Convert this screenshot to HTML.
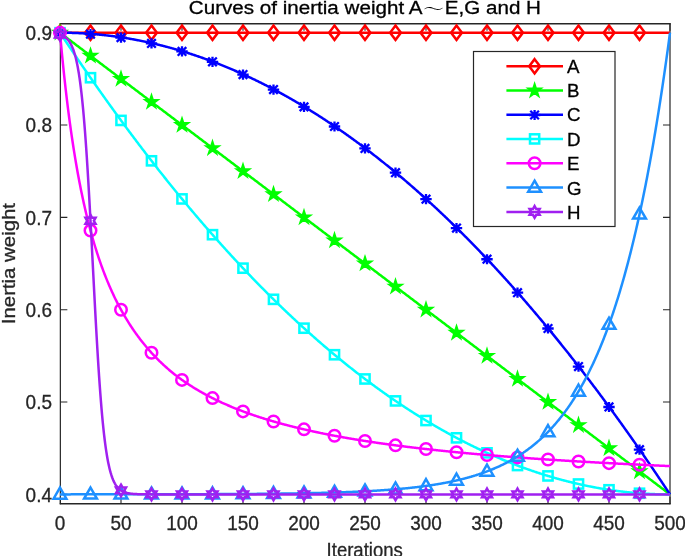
<!DOCTYPE html>
<html><head><meta charset="utf-8"><title>Curves of inertia weight</title>
<style>html,body{margin:0;padding:0;background:#fff}svg{display:block}</style></head>
<body>
<svg width="685" height="556" viewBox="0 0 685 556" font-family="'Liberation Sans', 'Noto Sans CJK SC', sans-serif">
<rect width="685" height="556" fill="#fff"/>
<g stroke="#262626" fill="none">
<path d="M60.35 23.1V504.35M670 23.1V504.35" stroke-width="1.2"/>
<path d="M59.75 23.75H670.6M59.75 503.7H670.6" stroke-width="1.35"/>
<path d="M60.35 503.7v-7M60.35 23.75v7M121 503.7v-7M121 23.75v7M182 503.7v-7M182 23.75v7M243 503.7v-7M243 23.75v7M304 503.7v-7M304 23.75v7M365 503.7v-7M365 23.75v7M426 503.7v-7M426 23.75v7M487 503.7v-7M487 23.75v7M548 503.7v-7M548 23.75v7M609 503.7v-7M609 23.75v7M670 503.7v-7M670 23.75v7M60.35 494.4h7M670 494.4h-7M60.35 402.06h7M670 402.06h-7M60.35 309.72h7M670 309.72h-7M60.35 217.38h7M670 217.38h-7M60.35 125.04h7M670 125.04h-7M60.35 32.7h7M670 32.7h-7" stroke-width="1.1"/>
</g>
<g font-size="20" fill="#262626" stroke="#262626" stroke-width="0.3">
<g text-anchor="middle">
<text transform="translate(60 530.2) scale(0.95 1)">0</text>
<text transform="translate(121 530.2) scale(0.95 1)">50</text>
<text transform="translate(182 530.2) scale(0.95 1)">100</text>
<text transform="translate(243 530.2) scale(0.95 1)">150</text>
<text transform="translate(304 530.2) scale(0.95 1)">200</text>
<text transform="translate(365 530.2) scale(0.95 1)">250</text>
<text transform="translate(426 530.2) scale(0.95 1)">300</text>
<text transform="translate(487 530.2) scale(0.95 1)">350</text>
<text transform="translate(548 530.2) scale(0.95 1)">400</text>
<text transform="translate(609 530.2) scale(0.95 1)">450</text>
<text transform="translate(670 530.2) scale(0.95 1)">500</text>
</g><g text-anchor="end">
<text transform="translate(52 501.7) scale(0.95 1)">0.4</text>
<text transform="translate(52 409.36) scale(0.95 1)">0.5</text>
<text transform="translate(52 317.02) scale(0.95 1)">0.6</text>
<text transform="translate(52 224.68) scale(0.95 1)">0.7</text>
<text transform="translate(52 132.34) scale(0.95 1)">0.8</text>
<text transform="translate(52 40) scale(0.95 1)">0.9</text>
</g></g>
<text transform="translate(364.7 556.6) scale(0.918 1)" font-size="20.2" text-anchor="middle" fill="#262626" stroke="#262626" stroke-width="0.3">Iterations</text>
<text transform="translate(14.9 263.6) rotate(-90) scale(1.165 1)" font-size="17.5" text-anchor="middle" fill="#262626" stroke="#262626" stroke-width="0.3">Inertia weight</text>
<text transform="translate(364.9 14.3) scale(1.0966 1)" font-size="18.8" text-anchor="middle" fill="#000" stroke="#000" stroke-width="0.3">Curves of inertia weight A<tspan font-family="Noto Serif CJK SC, Noto Sans CJK SC, serif" font-weight="400" stroke="none" dx="0.7" dy="1.2">～</tspan><tspan dx="0.9" dy="-1.2">E,G and H</tspan></text>
<g fill="none">
<path d="M60 32.7L60.61 32.7L61.22 32.7L61.83 32.7L62.44 32.7L63.05 32.7L63.66 32.7L64.27 32.7L64.88 32.7L65.49 32.7L66.1 32.7L66.71 32.7L67.32 32.7L67.93 32.7L68.54 32.7L69.15 32.7L69.76 32.7L70.37 32.7L70.98 32.7L71.59 32.7L72.2 32.7L72.81 32.7L73.42 32.7L74.03 32.7L74.64 32.7L75.25 32.7L75.86 32.7L76.47 32.7L77.08 32.7L77.69 32.7L78.3 32.7L78.91 32.7L79.52 32.7L80.13 32.7L80.74 32.7L81.35 32.7L81.96 32.7L82.57 32.7L83.18 32.7L83.79 32.7L84.4 32.7L85.01 32.7L85.62 32.7L86.23 32.7L86.84 32.7L87.45 32.7L88.06 32.7L88.67 32.7L89.28 32.7L89.89 32.7L90.5 32.7L91.11 32.7L91.72 32.7L92.33 32.7L92.94 32.7L93.55 32.7L94.16 32.7L94.77 32.7L95.38 32.7L95.99 32.7L96.6 32.7L97.21 32.7L97.82 32.7L98.43 32.7L99.04 32.7L99.65 32.7L100.26 32.7L100.87 32.7L101.48 32.7L102.09 32.7L102.7 32.7L103.31 32.7L103.92 32.7L104.53 32.7L105.14 32.7L105.75 32.7L106.36 32.7L106.97 32.7L107.58 32.7L108.19 32.7L108.8 32.7L109.41 32.7L110.02 32.7L110.63 32.7L111.24 32.7L111.85 32.7L112.46 32.7L113.07 32.7L113.68 32.7L114.29 32.7L114.9 32.7L115.51 32.7L116.12 32.7L116.73 32.7L117.34 32.7L117.95 32.7L118.56 32.7L119.17 32.7L119.78 32.7L120.39 32.7L121 32.7L121.61 32.7L122.22 32.7L122.83 32.7L123.44 32.7L124.05 32.7L124.66 32.7L125.27 32.7L125.88 32.7L126.49 32.7L127.1 32.7L127.71 32.7L128.32 32.7L128.93 32.7L129.54 32.7L130.15 32.7L130.76 32.7L131.37 32.7L131.98 32.7L132.59 32.7L133.2 32.7L133.81 32.7L134.42 32.7L135.03 32.7L135.64 32.7L136.25 32.7L136.86 32.7L137.47 32.7L138.08 32.7L138.69 32.7L139.3 32.7L139.91 32.7L140.52 32.7L141.13 32.7L141.74 32.7L142.35 32.7L142.96 32.7L143.57 32.7L144.18 32.7L144.79 32.7L145.4 32.7L146.01 32.7L146.62 32.7L147.23 32.7L147.84 32.7L148.45 32.7L149.06 32.7L149.67 32.7L150.28 32.7L150.89 32.7L151.5 32.7L152.11 32.7L152.72 32.7L153.33 32.7L153.94 32.7L154.55 32.7L155.16 32.7L155.77 32.7L156.38 32.7L156.99 32.7L157.6 32.7L158.21 32.7L158.82 32.7L159.43 32.7L160.04 32.7L160.65 32.7L161.26 32.7L161.87 32.7L162.48 32.7L163.09 32.7L163.7 32.7L164.31 32.7L164.92 32.7L165.53 32.7L166.14 32.7L166.75 32.7L167.36 32.7L167.97 32.7L168.58 32.7L169.19 32.7L169.8 32.7L170.41 32.7L171.02 32.7L171.63 32.7L172.24 32.7L172.85 32.7L173.46 32.7L174.07 32.7L174.68 32.7L175.29 32.7L175.9 32.7L176.51 32.7L177.12 32.7L177.73 32.7L178.34 32.7L178.95 32.7L179.56 32.7L180.17 32.7L180.78 32.7L181.39 32.7L182 32.7L182.61 32.7L183.22 32.7L183.83 32.7L184.44 32.7L185.05 32.7L185.66 32.7L186.27 32.7L186.88 32.7L187.49 32.7L188.1 32.7L188.71 32.7L189.32 32.7L189.93 32.7L190.54 32.7L191.15 32.7L191.76 32.7L192.37 32.7L192.98 32.7L193.59 32.7L194.2 32.7L194.81 32.7L195.42 32.7L196.03 32.7L196.64 32.7L197.25 32.7L197.86 32.7L198.47 32.7L199.08 32.7L199.69 32.7L200.3 32.7L200.91 32.7L201.52 32.7L202.13 32.7L202.74 32.7L203.35 32.7L203.96 32.7L204.57 32.7L205.18 32.7L205.79 32.7L206.4 32.7L207.01 32.7L207.62 32.7L208.23 32.7L208.84 32.7L209.45 32.7L210.06 32.7L210.67 32.7L211.28 32.7L211.89 32.7L212.5 32.7L213.11 32.7L213.72 32.7L214.33 32.7L214.94 32.7L215.55 32.7L216.16 32.7L216.77 32.7L217.38 32.7L217.99 32.7L218.6 32.7L219.21 32.7L219.82 32.7L220.43 32.7L221.04 32.7L221.65 32.7L222.26 32.7L222.87 32.7L223.48 32.7L224.09 32.7L224.7 32.7L225.31 32.7L225.92 32.7L226.53 32.7L227.14 32.7L227.75 32.7L228.36 32.7L228.97 32.7L229.58 32.7L230.19 32.7L230.8 32.7L231.41 32.7L232.02 32.7L232.63 32.7L233.24 32.7L233.85 32.7L234.46 32.7L235.07 32.7L235.68 32.7L236.29 32.7L236.9 32.7L237.51 32.7L238.12 32.7L238.73 32.7L239.34 32.7L239.95 32.7L240.56 32.7L241.17 32.7L241.78 32.7L242.39 32.7L243 32.7L243.61 32.7L244.22 32.7L244.83 32.7L245.44 32.7L246.05 32.7L246.66 32.7L247.27 32.7L247.88 32.7L248.49 32.7L249.1 32.7L249.71 32.7L250.32 32.7L250.93 32.7L251.54 32.7L252.15 32.7L252.76 32.7L253.37 32.7L253.98 32.7L254.59 32.7L255.2 32.7L255.81 32.7L256.42 32.7L257.03 32.7L257.64 32.7L258.25 32.7L258.86 32.7L259.47 32.7L260.08 32.7L260.69 32.7L261.3 32.7L261.91 32.7L262.52 32.7L263.13 32.7L263.74 32.7L264.35 32.7L264.96 32.7L265.57 32.7L266.18 32.7L266.79 32.7L267.4 32.7L268.01 32.7L268.62 32.7L269.23 32.7L269.84 32.7L270.45 32.7L271.06 32.7L271.67 32.7L272.28 32.7L272.89 32.7L273.5 32.7L274.11 32.7L274.72 32.7L275.33 32.7L275.94 32.7L276.55 32.7L277.16 32.7L277.77 32.7L278.38 32.7L278.99 32.7L279.6 32.7L280.21 32.7L280.82 32.7L281.43 32.7L282.04 32.7L282.65 32.7L283.26 32.7L283.87 32.7L284.48 32.7L285.09 32.7L285.7 32.7L286.31 32.7L286.92 32.7L287.53 32.7L288.14 32.7L288.75 32.7L289.36 32.7L289.97 32.7L290.58 32.7L291.19 32.7L291.8 32.7L292.41 32.7L293.02 32.7L293.63 32.7L294.24 32.7L294.85 32.7L295.46 32.7L296.07 32.7L296.68 32.7L297.29 32.7L297.9 32.7L298.51 32.7L299.12 32.7L299.73 32.7L300.34 32.7L300.95 32.7L301.56 32.7L302.17 32.7L302.78 32.7L303.39 32.7L304 32.7L304.61 32.7L305.22 32.7L305.83 32.7L306.44 32.7L307.05 32.7L307.66 32.7L308.27 32.7L308.88 32.7L309.49 32.7L310.1 32.7L310.71 32.7L311.32 32.7L311.93 32.7L312.54 32.7L313.15 32.7L313.76 32.7L314.37 32.7L314.98 32.7L315.59 32.7L316.2 32.7L316.81 32.7L317.42 32.7L318.03 32.7L318.64 32.7L319.25 32.7L319.86 32.7L320.47 32.7L321.08 32.7L321.69 32.7L322.3 32.7L322.91 32.7L323.52 32.7L324.13 32.7L324.74 32.7L325.35 32.7L325.96 32.7L326.57 32.7L327.18 32.7L327.79 32.7L328.4 32.7L329.01 32.7L329.62 32.7L330.23 32.7L330.84 32.7L331.45 32.7L332.06 32.7L332.67 32.7L333.28 32.7L333.89 32.7L334.5 32.7L335.11 32.7L335.72 32.7L336.33 32.7L336.94 32.7L337.55 32.7L338.16 32.7L338.77 32.7L339.38 32.7L339.99 32.7L340.6 32.7L341.21 32.7L341.82 32.7L342.43 32.7L343.04 32.7L343.65 32.7L344.26 32.7L344.87 32.7L345.48 32.7L346.09 32.7L346.7 32.7L347.31 32.7L347.92 32.7L348.53 32.7L349.14 32.7L349.75 32.7L350.36 32.7L350.97 32.7L351.58 32.7L352.19 32.7L352.8 32.7L353.41 32.7L354.02 32.7L354.63 32.7L355.24 32.7L355.85 32.7L356.46 32.7L357.07 32.7L357.68 32.7L358.29 32.7L358.9 32.7L359.51 32.7L360.12 32.7L360.73 32.7L361.34 32.7L361.95 32.7L362.56 32.7L363.17 32.7L363.78 32.7L364.39 32.7L365 32.7L365.61 32.7L366.22 32.7L366.83 32.7L367.44 32.7L368.05 32.7L368.66 32.7L369.27 32.7L369.88 32.7L370.49 32.7L371.1 32.7L371.71 32.7L372.32 32.7L372.93 32.7L373.54 32.7L374.15 32.7L374.76 32.7L375.37 32.7L375.98 32.7L376.59 32.7L377.2 32.7L377.81 32.7L378.42 32.7L379.03 32.7L379.64 32.7L380.25 32.7L380.86 32.7L381.47 32.7L382.08 32.7L382.69 32.7L383.3 32.7L383.91 32.7L384.52 32.7L385.13 32.7L385.74 32.7L386.35 32.7L386.96 32.7L387.57 32.7L388.18 32.7L388.79 32.7L389.4 32.7L390.01 32.7L390.62 32.7L391.23 32.7L391.84 32.7L392.45 32.7L393.06 32.7L393.67 32.7L394.28 32.7L394.89 32.7L395.5 32.7L396.11 32.7L396.72 32.7L397.33 32.7L397.94 32.7L398.55 32.7L399.16 32.7L399.77 32.7L400.38 32.7L400.99 32.7L401.6 32.7L402.21 32.7L402.82 32.7L403.43 32.7L404.04 32.7L404.65 32.7L405.26 32.7L405.87 32.7L406.48 32.7L407.09 32.7L407.7 32.7L408.31 32.7L408.92 32.7L409.53 32.7L410.14 32.7L410.75 32.7L411.36 32.7L411.97 32.7L412.58 32.7L413.19 32.7L413.8 32.7L414.41 32.7L415.02 32.7L415.63 32.7L416.24 32.7L416.85 32.7L417.46 32.7L418.07 32.7L418.68 32.7L419.29 32.7L419.9 32.7L420.51 32.7L421.12 32.7L421.73 32.7L422.34 32.7L422.95 32.7L423.56 32.7L424.17 32.7L424.78 32.7L425.39 32.7L426 32.7L426.61 32.7L427.22 32.7L427.83 32.7L428.44 32.7L429.05 32.7L429.66 32.7L430.27 32.7L430.88 32.7L431.49 32.7L432.1 32.7L432.71 32.7L433.32 32.7L433.93 32.7L434.54 32.7L435.15 32.7L435.76 32.7L436.37 32.7L436.98 32.7L437.59 32.7L438.2 32.7L438.81 32.7L439.42 32.7L440.03 32.7L440.64 32.7L441.25 32.7L441.86 32.7L442.47 32.7L443.08 32.7L443.69 32.7L444.3 32.7L444.91 32.7L445.52 32.7L446.13 32.7L446.74 32.7L447.35 32.7L447.96 32.7L448.57 32.7L449.18 32.7L449.79 32.7L450.4 32.7L451.01 32.7L451.62 32.7L452.23 32.7L452.84 32.7L453.45 32.7L454.06 32.7L454.67 32.7L455.28 32.7L455.89 32.7L456.5 32.7L457.11 32.7L457.72 32.7L458.33 32.7L458.94 32.7L459.55 32.7L460.16 32.7L460.77 32.7L461.38 32.7L461.99 32.7L462.6 32.7L463.21 32.7L463.82 32.7L464.43 32.7L465.04 32.7L465.65 32.7L466.26 32.7L466.87 32.7L467.48 32.7L468.09 32.7L468.7 32.7L469.31 32.7L469.92 32.7L470.53 32.7L471.14 32.7L471.75 32.7L472.36 32.7L472.97 32.7L473.58 32.7L474.19 32.7L474.8 32.7L475.41 32.7L476.02 32.7L476.63 32.7L477.24 32.7L477.85 32.7L478.46 32.7L479.07 32.7L479.68 32.7L480.29 32.7L480.9 32.7L481.51 32.7L482.12 32.7L482.73 32.7L483.34 32.7L483.95 32.7L484.56 32.7L485.17 32.7L485.78 32.7L486.39 32.7L487 32.7L487.61 32.7L488.22 32.7L488.83 32.7L489.44 32.7L490.05 32.7L490.66 32.7L491.27 32.7L491.88 32.7L492.49 32.7L493.1 32.7L493.71 32.7L494.32 32.7L494.93 32.7L495.54 32.7L496.15 32.7L496.76 32.7L497.37 32.7L497.98 32.7L498.59 32.7L499.2 32.7L499.81 32.7L500.42 32.7L501.03 32.7L501.64 32.7L502.25 32.7L502.86 32.7L503.47 32.7L504.08 32.7L504.69 32.7L505.3 32.7L505.91 32.7L506.52 32.7L507.13 32.7L507.74 32.7L508.35 32.7L508.96 32.7L509.57 32.7L510.18 32.7L510.79 32.7L511.4 32.7L512.01 32.7L512.62 32.7L513.23 32.7L513.84 32.7L514.45 32.7L515.06 32.7L515.67 32.7L516.28 32.7L516.89 32.7L517.5 32.7L518.11 32.7L518.72 32.7L519.33 32.7L519.94 32.7L520.55 32.7L521.16 32.7L521.77 32.7L522.38 32.7L522.99 32.7L523.6 32.7L524.21 32.7L524.82 32.7L525.43 32.7L526.04 32.7L526.65 32.7L527.26 32.7L527.87 32.7L528.48 32.7L529.09 32.7L529.7 32.7L530.31 32.7L530.92 32.7L531.53 32.7L532.14 32.7L532.75 32.7L533.36 32.7L533.97 32.7L534.58 32.7L535.19 32.7L535.8 32.7L536.41 32.7L537.02 32.7L537.63 32.7L538.24 32.7L538.85 32.7L539.46 32.7L540.07 32.7L540.68 32.7L541.29 32.7L541.9 32.7L542.51 32.7L543.12 32.7L543.73 32.7L544.34 32.7L544.95 32.7L545.56 32.7L546.17 32.7L546.78 32.7L547.39 32.7L548 32.7L548.61 32.7L549.22 32.7L549.83 32.7L550.44 32.7L551.05 32.7L551.66 32.7L552.27 32.7L552.88 32.7L553.49 32.7L554.1 32.7L554.71 32.7L555.32 32.7L555.93 32.7L556.54 32.7L557.15 32.7L557.76 32.7L558.37 32.7L558.98 32.7L559.59 32.7L560.2 32.7L560.81 32.7L561.42 32.7L562.03 32.7L562.64 32.7L563.25 32.7L563.86 32.7L564.47 32.7L565.08 32.7L565.69 32.7L566.3 32.7L566.91 32.7L567.52 32.7L568.13 32.7L568.74 32.7L569.35 32.7L569.96 32.7L570.57 32.7L571.18 32.7L571.79 32.7L572.4 32.7L573.01 32.7L573.62 32.7L574.23 32.7L574.84 32.7L575.45 32.7L576.06 32.7L576.67 32.7L577.28 32.7L577.89 32.7L578.5 32.7L579.11 32.7L579.72 32.7L580.33 32.7L580.94 32.7L581.55 32.7L582.16 32.7L582.77 32.7L583.38 32.7L583.99 32.7L584.6 32.7L585.21 32.7L585.82 32.7L586.43 32.7L587.04 32.7L587.65 32.7L588.26 32.7L588.87 32.7L589.48 32.7L590.09 32.7L590.7 32.7L591.31 32.7L591.92 32.7L592.53 32.7L593.14 32.7L593.75 32.7L594.36 32.7L594.97 32.7L595.58 32.7L596.19 32.7L596.8 32.7L597.41 32.7L598.02 32.7L598.63 32.7L599.24 32.7L599.85 32.7L600.46 32.7L601.07 32.7L601.68 32.7L602.29 32.7L602.9 32.7L603.51 32.7L604.12 32.7L604.73 32.7L605.34 32.7L605.95 32.7L606.56 32.7L607.17 32.7L607.78 32.7L608.39 32.7L609 32.7L609.61 32.7L610.22 32.7L610.83 32.7L611.44 32.7L612.05 32.7L612.66 32.7L613.27 32.7L613.88 32.7L614.49 32.7L615.1 32.7L615.71 32.7L616.32 32.7L616.93 32.7L617.54 32.7L618.15 32.7L618.76 32.7L619.37 32.7L619.98 32.7L620.59 32.7L621.2 32.7L621.81 32.7L622.42 32.7L623.03 32.7L623.64 32.7L624.25 32.7L624.86 32.7L625.47 32.7L626.08 32.7L626.69 32.7L627.3 32.7L627.91 32.7L628.52 32.7L629.13 32.7L629.74 32.7L630.35 32.7L630.96 32.7L631.57 32.7L632.18 32.7L632.79 32.7L633.4 32.7L634.01 32.7L634.62 32.7L635.23 32.7L635.84 32.7L636.45 32.7L637.06 32.7L637.67 32.7L638.28 32.7L638.89 32.7L639.5 32.7L640.11 32.7L640.72 32.7L641.33 32.7L641.94 32.7L642.55 32.7L643.16 32.7L643.77 32.7L644.38 32.7L644.99 32.7L645.6 32.7L646.21 32.7L646.82 32.7L647.43 32.7L648.04 32.7L648.65 32.7L649.26 32.7L649.87 32.7L650.48 32.7L651.09 32.7L651.7 32.7L652.31 32.7L652.92 32.7L653.53 32.7L654.14 32.7L654.75 32.7L655.36 32.7L655.97 32.7L656.58 32.7L657.19 32.7L657.8 32.7L658.41 32.7L659.02 32.7L659.63 32.7L660.24 32.7L660.85 32.7L661.46 32.7L662.07 32.7L662.68 32.7L663.29 32.7L663.9 32.7L664.51 32.7L665.12 32.7L665.73 32.7L666.34 32.7L666.95 32.7L667.56 32.7L668.17 32.7L668.78 32.7L669.39 32.7L670 32.7" stroke="#ff0000" stroke-width="2.5" fill="none" stroke-linejoin="round"/>
<path d="M60 25.55L65.4 32.7L60 39.85L54.6 32.7Z" fill="none" stroke="#ff0000" stroke-width="2.5"/>
<path d="M90.5 25.55L95.9 32.7L90.5 39.85L85.1 32.7Z" fill="none" stroke="#ff0000" stroke-width="2.5"/>
<path d="M121 25.55L126.4 32.7L121 39.85L115.6 32.7Z" fill="none" stroke="#ff0000" stroke-width="2.5"/>
<path d="M151.5 25.55L156.9 32.7L151.5 39.85L146.1 32.7Z" fill="none" stroke="#ff0000" stroke-width="2.5"/>
<path d="M182 25.55L187.4 32.7L182 39.85L176.6 32.7Z" fill="none" stroke="#ff0000" stroke-width="2.5"/>
<path d="M212.5 25.55L217.9 32.7L212.5 39.85L207.1 32.7Z" fill="none" stroke="#ff0000" stroke-width="2.5"/>
<path d="M243 25.55L248.4 32.7L243 39.85L237.6 32.7Z" fill="none" stroke="#ff0000" stroke-width="2.5"/>
<path d="M273.5 25.55L278.9 32.7L273.5 39.85L268.1 32.7Z" fill="none" stroke="#ff0000" stroke-width="2.5"/>
<path d="M304 25.55L309.4 32.7L304 39.85L298.6 32.7Z" fill="none" stroke="#ff0000" stroke-width="2.5"/>
<path d="M334.5 25.55L339.9 32.7L334.5 39.85L329.1 32.7Z" fill="none" stroke="#ff0000" stroke-width="2.5"/>
<path d="M365 25.55L370.4 32.7L365 39.85L359.6 32.7Z" fill="none" stroke="#ff0000" stroke-width="2.5"/>
<path d="M395.5 25.55L400.9 32.7L395.5 39.85L390.1 32.7Z" fill="none" stroke="#ff0000" stroke-width="2.5"/>
<path d="M426 25.55L431.4 32.7L426 39.85L420.6 32.7Z" fill="none" stroke="#ff0000" stroke-width="2.5"/>
<path d="M456.5 25.55L461.9 32.7L456.5 39.85L451.1 32.7Z" fill="none" stroke="#ff0000" stroke-width="2.5"/>
<path d="M487 25.55L492.4 32.7L487 39.85L481.6 32.7Z" fill="none" stroke="#ff0000" stroke-width="2.5"/>
<path d="M517.5 25.55L522.9 32.7L517.5 39.85L512.1 32.7Z" fill="none" stroke="#ff0000" stroke-width="2.5"/>
<path d="M548 25.55L553.4 32.7L548 39.85L542.6 32.7Z" fill="none" stroke="#ff0000" stroke-width="2.5"/>
<path d="M578.5 25.55L583.9 32.7L578.5 39.85L573.1 32.7Z" fill="none" stroke="#ff0000" stroke-width="2.5"/>
<path d="M609 25.55L614.4 32.7L609 39.85L603.6 32.7Z" fill="none" stroke="#ff0000" stroke-width="2.5"/>
<path d="M639.5 25.55L644.9 32.7L639.5 39.85L634.1 32.7Z" fill="none" stroke="#ff0000" stroke-width="2.5"/>
<path d="M60 32.7L60.61 33.16L61.22 33.62L61.83 34.09L62.44 34.55L63.05 35.01L63.66 35.47L64.27 35.93L64.88 36.39L65.49 36.86L66.1 37.32L66.71 37.78L67.32 38.24L67.93 38.7L68.54 39.16L69.15 39.63L69.76 40.09L70.37 40.55L70.98 41.01L71.59 41.47L72.2 41.93L72.81 42.4L73.42 42.86L74.03 43.32L74.64 43.78L75.25 44.24L75.86 44.7L76.47 45.17L77.08 45.63L77.69 46.09L78.3 46.55L78.91 47.01L79.52 47.47L80.13 47.94L80.74 48.4L81.35 48.86L81.96 49.32L82.57 49.78L83.18 50.24L83.79 50.71L84.4 51.17L85.01 51.63L85.62 52.09L86.23 52.55L86.84 53.01L87.45 53.48L88.06 53.94L88.67 54.4L89.28 54.86L89.89 55.32L90.5 55.79L91.11 56.25L91.72 56.71L92.33 57.17L92.94 57.63L93.55 58.09L94.16 58.56L94.77 59.02L95.38 59.48L95.99 59.94L96.6 60.4L97.21 60.86L97.82 61.33L98.43 61.79L99.04 62.25L99.65 62.71L100.26 63.17L100.87 63.63L101.48 64.1L102.09 64.56L102.7 65.02L103.31 65.48L103.92 65.94L104.53 66.4L105.14 66.87L105.75 67.33L106.36 67.79L106.97 68.25L107.58 68.71L108.19 69.17L108.8 69.64L109.41 70.1L110.02 70.56L110.63 71.02L111.24 71.48L111.85 71.94L112.46 72.41L113.07 72.87L113.68 73.33L114.29 73.79L114.9 74.25L115.51 74.71L116.12 75.18L116.73 75.64L117.34 76.1L117.95 76.56L118.56 77.02L119.17 77.48L119.78 77.95L120.39 78.41L121 78.87L121.61 79.33L122.22 79.79L122.83 80.26L123.44 80.72L124.05 81.18L124.66 81.64L125.27 82.1L125.88 82.56L126.49 83.03L127.1 83.49L127.71 83.95L128.32 84.41L128.93 84.87L129.54 85.33L130.15 85.8L130.76 86.26L131.37 86.72L131.98 87.18L132.59 87.64L133.2 88.1L133.81 88.57L134.42 89.03L135.03 89.49L135.64 89.95L136.25 90.41L136.86 90.87L137.47 91.34L138.08 91.8L138.69 92.26L139.3 92.72L139.91 93.18L140.52 93.64L141.13 94.11L141.74 94.57L142.35 95.03L142.96 95.49L143.57 95.95L144.18 96.41L144.79 96.88L145.4 97.34L146.01 97.8L146.62 98.26L147.23 98.72L147.84 99.18L148.45 99.65L149.06 100.11L149.67 100.57L150.28 101.03L150.89 101.49L151.5 101.95L152.11 102.42L152.72 102.88L153.33 103.34L153.94 103.8L154.55 104.26L155.16 104.73L155.77 105.19L156.38 105.65L156.99 106.11L157.6 106.57L158.21 107.03L158.82 107.5L159.43 107.96L160.04 108.42L160.65 108.88L161.26 109.34L161.87 109.8L162.48 110.27L163.09 110.73L163.7 111.19L164.31 111.65L164.92 112.11L165.53 112.57L166.14 113.04L166.75 113.5L167.36 113.96L167.97 114.42L168.58 114.88L169.19 115.34L169.8 115.81L170.41 116.27L171.02 116.73L171.63 117.19L172.24 117.65L172.85 118.11L173.46 118.58L174.07 119.04L174.68 119.5L175.29 119.96L175.9 120.42L176.51 120.88L177.12 121.35L177.73 121.81L178.34 122.27L178.95 122.73L179.56 123.19L180.17 123.65L180.78 124.12L181.39 124.58L182 125.04L182.61 125.5L183.22 125.96L183.83 126.43L184.44 126.89L185.05 127.35L185.66 127.81L186.27 128.27L186.88 128.73L187.49 129.2L188.1 129.66L188.71 130.12L189.32 130.58L189.93 131.04L190.54 131.5L191.15 131.97L191.76 132.43L192.37 132.89L192.98 133.35L193.59 133.81L194.2 134.27L194.81 134.74L195.42 135.2L196.03 135.66L196.64 136.12L197.25 136.58L197.86 137.04L198.47 137.51L199.08 137.97L199.69 138.43L200.3 138.89L200.91 139.35L201.52 139.81L202.13 140.28L202.74 140.74L203.35 141.2L203.96 141.66L204.57 142.12L205.18 142.58L205.79 143.05L206.4 143.51L207.01 143.97L207.62 144.43L208.23 144.89L208.84 145.35L209.45 145.82L210.06 146.28L210.67 146.74L211.28 147.2L211.89 147.66L212.5 148.12L213.11 148.59L213.72 149.05L214.33 149.51L214.94 149.97L215.55 150.43L216.16 150.9L216.77 151.36L217.38 151.82L217.99 152.28L218.6 152.74L219.21 153.2L219.82 153.67L220.43 154.13L221.04 154.59L221.65 155.05L222.26 155.51L222.87 155.97L223.48 156.44L224.09 156.9L224.7 157.36L225.31 157.82L225.92 158.28L226.53 158.74L227.14 159.21L227.75 159.67L228.36 160.13L228.97 160.59L229.58 161.05L230.19 161.51L230.8 161.98L231.41 162.44L232.02 162.9L232.63 163.36L233.24 163.82L233.85 164.28L234.46 164.75L235.07 165.21L235.68 165.67L236.29 166.13L236.9 166.59L237.51 167.05L238.12 167.52L238.73 167.98L239.34 168.44L239.95 168.9L240.56 169.36L241.17 169.82L241.78 170.29L242.39 170.75L243 171.21L243.61 171.67L244.22 172.13L244.83 172.6L245.44 173.06L246.05 173.52L246.66 173.98L247.27 174.44L247.88 174.9L248.49 175.37L249.1 175.83L249.71 176.29L250.32 176.75L250.93 177.21L251.54 177.67L252.15 178.14L252.76 178.6L253.37 179.06L253.98 179.52L254.59 179.98L255.2 180.44L255.81 180.91L256.42 181.37L257.03 181.83L257.64 182.29L258.25 182.75L258.86 183.21L259.47 183.68L260.08 184.14L260.69 184.6L261.3 185.06L261.91 185.52L262.52 185.98L263.13 186.45L263.74 186.91L264.35 187.37L264.96 187.83L265.57 188.29L266.18 188.75L266.79 189.22L267.4 189.68L268.01 190.14L268.62 190.6L269.23 191.06L269.84 191.52L270.45 191.99L271.06 192.45L271.67 192.91L272.28 193.37L272.89 193.83L273.5 194.29L274.11 194.76L274.72 195.22L275.33 195.68L275.94 196.14L276.55 196.6L277.16 197.07L277.77 197.53L278.38 197.99L278.99 198.45L279.6 198.91L280.21 199.37L280.82 199.84L281.43 200.3L282.04 200.76L282.65 201.22L283.26 201.68L283.87 202.14L284.48 202.61L285.09 203.07L285.7 203.53L286.31 203.99L286.92 204.45L287.53 204.91L288.14 205.38L288.75 205.84L289.36 206.3L289.97 206.76L290.58 207.22L291.19 207.68L291.8 208.15L292.41 208.61L293.02 209.07L293.63 209.53L294.24 209.99L294.85 210.45L295.46 210.92L296.07 211.38L296.68 211.84L297.29 212.3L297.9 212.76L298.51 213.22L299.12 213.69L299.73 214.15L300.34 214.61L300.95 215.07L301.56 215.53L302.17 215.99L302.78 216.46L303.39 216.92L304 217.38L304.61 217.84L305.22 218.3L305.83 218.77L306.44 219.23L307.05 219.69L307.66 220.15L308.27 220.61L308.88 221.07L309.49 221.54L310.1 222L310.71 222.46L311.32 222.92L311.93 223.38L312.54 223.84L313.15 224.31L313.76 224.77L314.37 225.23L314.98 225.69L315.59 226.15L316.2 226.61L316.81 227.08L317.42 227.54L318.03 228L318.64 228.46L319.25 228.92L319.86 229.38L320.47 229.85L321.08 230.31L321.69 230.77L322.3 231.23L322.91 231.69L323.52 232.15L324.13 232.62L324.74 233.08L325.35 233.54L325.96 234L326.57 234.46L327.18 234.92L327.79 235.39L328.4 235.85L329.01 236.31L329.62 236.77L330.23 237.23L330.84 237.69L331.45 238.16L332.06 238.62L332.67 239.08L333.28 239.54L333.89 240L334.5 240.46L335.11 240.93L335.72 241.39L336.33 241.85L336.94 242.31L337.55 242.77L338.16 243.24L338.77 243.7L339.38 244.16L339.99 244.62L340.6 245.08L341.21 245.54L341.82 246.01L342.43 246.47L343.04 246.93L343.65 247.39L344.26 247.85L344.87 248.31L345.48 248.78L346.09 249.24L346.7 249.7L347.31 250.16L347.92 250.62L348.53 251.08L349.14 251.55L349.75 252.01L350.36 252.47L350.97 252.93L351.58 253.39L352.19 253.85L352.8 254.32L353.41 254.78L354.02 255.24L354.63 255.7L355.24 256.16L355.85 256.62L356.46 257.09L357.07 257.55L357.68 258.01L358.29 258.47L358.9 258.93L359.51 259.39L360.12 259.86L360.73 260.32L361.34 260.78L361.95 261.24L362.56 261.7L363.17 262.16L363.78 262.63L364.39 263.09L365 263.55L365.61 264.01L366.22 264.47L366.83 264.94L367.44 265.4L368.05 265.86L368.66 266.32L369.27 266.78L369.88 267.24L370.49 267.71L371.1 268.17L371.71 268.63L372.32 269.09L372.93 269.55L373.54 270.01L374.15 270.48L374.76 270.94L375.37 271.4L375.98 271.86L376.59 272.32L377.2 272.78L377.81 273.25L378.42 273.71L379.03 274.17L379.64 274.63L380.25 275.09L380.86 275.55L381.47 276.02L382.08 276.48L382.69 276.94L383.3 277.4L383.91 277.86L384.52 278.32L385.13 278.79L385.74 279.25L386.35 279.71L386.96 280.17L387.57 280.63L388.18 281.09L388.79 281.56L389.4 282.02L390.01 282.48L390.62 282.94L391.23 283.4L391.84 283.86L392.45 284.33L393.06 284.79L393.67 285.25L394.28 285.71L394.89 286.17L395.5 286.63L396.11 287.1L396.72 287.56L397.33 288.02L397.94 288.48L398.55 288.94L399.16 289.41L399.77 289.87L400.38 290.33L400.99 290.79L401.6 291.25L402.21 291.71L402.82 292.18L403.43 292.64L404.04 293.1L404.65 293.56L405.26 294.02L405.87 294.48L406.48 294.95L407.09 295.41L407.7 295.87L408.31 296.33L408.92 296.79L409.53 297.25L410.14 297.72L410.75 298.18L411.36 298.64L411.97 299.1L412.58 299.56L413.19 300.02L413.8 300.49L414.41 300.95L415.02 301.41L415.63 301.87L416.24 302.33L416.85 302.79L417.46 303.26L418.07 303.72L418.68 304.18L419.29 304.64L419.9 305.1L420.51 305.56L421.12 306.03L421.73 306.49L422.34 306.95L422.95 307.41L423.56 307.87L424.17 308.33L424.78 308.8L425.39 309.26L426 309.72L426.61 310.18L427.22 310.64L427.83 311.11L428.44 311.57L429.05 312.03L429.66 312.49L430.27 312.95L430.88 313.41L431.49 313.88L432.1 314.34L432.71 314.8L433.32 315.26L433.93 315.72L434.54 316.18L435.15 316.65L435.76 317.11L436.37 317.57L436.98 318.03L437.59 318.49L438.2 318.95L438.81 319.42L439.42 319.88L440.03 320.34L440.64 320.8L441.25 321.26L441.86 321.72L442.47 322.19L443.08 322.65L443.69 323.11L444.3 323.57L444.91 324.03L445.52 324.49L446.13 324.96L446.74 325.42L447.35 325.88L447.96 326.34L448.57 326.8L449.18 327.26L449.79 327.73L450.4 328.19L451.01 328.65L451.62 329.11L452.23 329.57L452.84 330.03L453.45 330.5L454.06 330.96L454.67 331.42L455.28 331.88L455.89 332.34L456.5 332.81L457.11 333.27L457.72 333.73L458.33 334.19L458.94 334.65L459.55 335.11L460.16 335.58L460.77 336.04L461.38 336.5L461.99 336.96L462.6 337.42L463.21 337.88L463.82 338.35L464.43 338.81L465.04 339.27L465.65 339.73L466.26 340.19L466.87 340.65L467.48 341.12L468.09 341.58L468.7 342.04L469.31 342.5L469.92 342.96L470.53 343.42L471.14 343.89L471.75 344.35L472.36 344.81L472.97 345.27L473.58 345.73L474.19 346.19L474.8 346.66L475.41 347.12L476.02 347.58L476.63 348.04L477.24 348.5L477.85 348.96L478.46 349.43L479.07 349.89L479.68 350.35L480.29 350.81L480.9 351.27L481.51 351.73L482.12 352.2L482.73 352.66L483.34 353.12L483.95 353.58L484.56 354.04L485.17 354.5L485.78 354.97L486.39 355.43L487 355.89L487.61 356.35L488.22 356.81L488.83 357.28L489.44 357.74L490.05 358.2L490.66 358.66L491.27 359.12L491.88 359.58L492.49 360.05L493.1 360.51L493.71 360.97L494.32 361.43L494.93 361.89L495.54 362.35L496.15 362.82L496.76 363.28L497.37 363.74L497.98 364.2L498.59 364.66L499.2 365.12L499.81 365.59L500.42 366.05L501.03 366.51L501.64 366.97L502.25 367.43L502.86 367.89L503.47 368.36L504.08 368.82L504.69 369.28L505.3 369.74L505.91 370.2L506.52 370.66L507.13 371.13L507.74 371.59L508.35 372.05L508.96 372.51L509.57 372.97L510.18 373.43L510.79 373.9L511.4 374.36L512.01 374.82L512.62 375.28L513.23 375.74L513.84 376.2L514.45 376.67L515.06 377.13L515.67 377.59L516.28 378.05L516.89 378.51L517.5 378.97L518.11 379.44L518.72 379.9L519.33 380.36L519.94 380.82L520.55 381.28L521.16 381.75L521.77 382.21L522.38 382.67L522.99 383.13L523.6 383.59L524.21 384.05L524.82 384.52L525.43 384.98L526.04 385.44L526.65 385.9L527.26 386.36L527.87 386.82L528.48 387.29L529.09 387.75L529.7 388.21L530.31 388.67L530.92 389.13L531.53 389.59L532.14 390.06L532.75 390.52L533.36 390.98L533.97 391.44L534.58 391.9L535.19 392.36L535.8 392.83L536.41 393.29L537.02 393.75L537.63 394.21L538.24 394.67L538.85 395.13L539.46 395.6L540.07 396.06L540.68 396.52L541.29 396.98L541.9 397.44L542.51 397.9L543.12 398.37L543.73 398.83L544.34 399.29L544.95 399.75L545.56 400.21L546.17 400.67L546.78 401.14L547.39 401.6L548 402.06L548.61 402.52L549.22 402.98L549.83 403.45L550.44 403.91L551.05 404.37L551.66 404.83L552.27 405.29L552.88 405.75L553.49 406.22L554.1 406.68L554.71 407.14L555.32 407.6L555.93 408.06L556.54 408.52L557.15 408.99L557.76 409.45L558.37 409.91L558.98 410.37L559.59 410.83L560.2 411.29L560.81 411.76L561.42 412.22L562.03 412.68L562.64 413.14L563.25 413.6L563.86 414.06L564.47 414.53L565.08 414.99L565.69 415.45L566.3 415.91L566.91 416.37L567.52 416.83L568.13 417.3L568.74 417.76L569.35 418.22L569.96 418.68L570.57 419.14L571.18 419.6L571.79 420.07L572.4 420.53L573.01 420.99L573.62 421.45L574.23 421.91L574.84 422.37L575.45 422.84L576.06 423.3L576.67 423.76L577.28 424.22L577.89 424.68L578.5 425.14L579.11 425.61L579.72 426.07L580.33 426.53L580.94 426.99L581.55 427.45L582.16 427.92L582.77 428.38L583.38 428.84L583.99 429.3L584.6 429.76L585.21 430.22L585.82 430.69L586.43 431.15L587.04 431.61L587.65 432.07L588.26 432.53L588.87 432.99L589.48 433.46L590.09 433.92L590.7 434.38L591.31 434.84L591.92 435.3L592.53 435.76L593.14 436.23L593.75 436.69L594.36 437.15L594.97 437.61L595.58 438.07L596.19 438.53L596.8 439L597.41 439.46L598.02 439.92L598.63 440.38L599.24 440.84L599.85 441.3L600.46 441.77L601.07 442.23L601.68 442.69L602.29 443.15L602.9 443.61L603.51 444.07L604.12 444.54L604.73 445L605.34 445.46L605.95 445.92L606.56 446.38L607.17 446.84L607.78 447.31L608.39 447.77L609 448.23L609.61 448.69L610.22 449.15L610.83 449.62L611.44 450.08L612.05 450.54L612.66 451L613.27 451.46L613.88 451.92L614.49 452.39L615.1 452.85L615.71 453.31L616.32 453.77L616.93 454.23L617.54 454.69L618.15 455.16L618.76 455.62L619.37 456.08L619.98 456.54L620.59 457L621.2 457.46L621.81 457.93L622.42 458.39L623.03 458.85L623.64 459.31L624.25 459.77L624.86 460.23L625.47 460.7L626.08 461.16L626.69 461.62L627.3 462.08L627.91 462.54L628.52 463L629.13 463.47L629.74 463.93L630.35 464.39L630.96 464.85L631.57 465.31L632.18 465.77L632.79 466.24L633.4 466.7L634.01 467.16L634.62 467.62L635.23 468.08L635.84 468.54L636.45 469.01L637.06 469.47L637.67 469.93L638.28 470.39L638.89 470.85L639.5 471.31L640.11 471.78L640.72 472.24L641.33 472.7L641.94 473.16L642.55 473.62L643.16 474.09L643.77 474.55L644.38 475.01L644.99 475.47L645.6 475.93L646.21 476.39L646.82 476.86L647.43 477.32L648.04 477.78L648.65 478.24L649.26 478.7L649.87 479.16L650.48 479.63L651.09 480.09L651.7 480.55L652.31 481.01L652.92 481.47L653.53 481.93L654.14 482.4L654.75 482.86L655.36 483.32L655.97 483.78L656.58 484.24L657.19 484.7L657.8 485.17L658.41 485.63L659.02 486.09L659.63 486.55L660.24 487.01L660.85 487.47L661.46 487.94L662.07 488.4L662.68 488.86L663.29 489.32L663.9 489.78L664.51 490.24L665.12 490.71L665.73 491.17L666.34 491.63L666.95 492.09L667.56 492.55L668.17 493.01L668.78 493.48L669.39 493.94L670 494.4" stroke="#00ff00" stroke-width="2.5" fill="none" stroke-linejoin="round"/>
<path d="M60 27.1L61.26 30.97L65.33 30.97L62.03 33.36L63.29 37.23L60 34.84L56.71 37.23L57.97 33.36L54.67 30.97L58.74 30.97Z" fill="#00ff00" stroke="#00ff00" stroke-width="2.5" stroke-miterlimit="10"/>
<path d="M90.5 50.19L91.76 54.05L95.83 54.05L92.53 56.45L93.79 60.32L90.5 57.92L87.21 60.32L88.47 56.45L85.17 54.05L89.24 54.05Z" fill="#00ff00" stroke="#00ff00" stroke-width="2.5" stroke-miterlimit="10"/>
<path d="M121 73.27L122.26 77.14L126.33 77.14L123.03 79.53L124.29 83.4L121 81.01L117.71 83.4L118.97 79.53L115.67 77.14L119.74 77.14Z" fill="#00ff00" stroke="#00ff00" stroke-width="2.5" stroke-miterlimit="10"/>
<path d="M151.5 96.35L152.76 100.22L156.83 100.22L153.53 102.62L154.79 106.49L151.5 104.09L148.21 106.49L149.47 102.62L146.17 100.22L150.24 100.22Z" fill="#00ff00" stroke="#00ff00" stroke-width="2.5" stroke-miterlimit="10"/>
<path d="M182 119.44L183.26 123.31L187.33 123.31L184.03 125.7L185.29 129.57L182 127.18L178.71 129.57L179.97 125.7L176.67 123.31L180.74 123.31Z" fill="#00ff00" stroke="#00ff00" stroke-width="2.5" stroke-miterlimit="10"/>
<path d="M212.5 142.53L213.76 146.39L217.83 146.39L214.53 148.79L215.79 152.66L212.5 150.26L209.21 152.66L210.47 148.79L207.17 146.39L211.24 146.39Z" fill="#00ff00" stroke="#00ff00" stroke-width="2.5" stroke-miterlimit="10"/>
<path d="M243 165.61L244.26 169.48L248.33 169.48L245.03 171.87L246.29 175.74L243 173.35L239.71 175.74L240.97 171.87L237.67 169.48L241.74 169.48Z" fill="#00ff00" stroke="#00ff00" stroke-width="2.5" stroke-miterlimit="10"/>
<path d="M273.5 188.69L274.76 192.56L278.83 192.56L275.53 194.96L276.79 198.83L273.5 196.43L270.21 198.83L271.47 194.96L268.17 192.56L272.24 192.56Z" fill="#00ff00" stroke="#00ff00" stroke-width="2.5" stroke-miterlimit="10"/>
<path d="M304 211.78L305.26 215.65L309.33 215.65L306.03 218.04L307.29 221.91L304 219.52L300.71 221.91L301.97 218.04L298.67 215.65L302.74 215.65Z" fill="#00ff00" stroke="#00ff00" stroke-width="2.5" stroke-miterlimit="10"/>
<path d="M334.5 234.86L335.76 238.73L339.83 238.73L336.53 241.13L337.79 245L334.5 242.6L331.21 245L332.47 241.13L329.17 238.73L333.24 238.73Z" fill="#00ff00" stroke="#00ff00" stroke-width="2.5" stroke-miterlimit="10"/>
<path d="M365 257.95L366.26 261.82L370.33 261.82L367.03 264.21L368.29 268.08L365 265.69L361.71 268.08L362.97 264.21L359.67 261.82L363.74 261.82Z" fill="#00ff00" stroke="#00ff00" stroke-width="2.5" stroke-miterlimit="10"/>
<path d="M395.5 281.03L396.76 284.9L400.83 284.9L397.53 287.3L398.79 291.17L395.5 288.77L392.21 291.17L393.47 287.3L390.17 284.9L394.24 284.9Z" fill="#00ff00" stroke="#00ff00" stroke-width="2.5" stroke-miterlimit="10"/>
<path d="M426 304.12L427.26 307.99L431.33 307.99L428.03 310.38L429.29 314.25L426 311.86L422.71 314.25L423.97 310.38L420.67 307.99L424.74 307.99Z" fill="#00ff00" stroke="#00ff00" stroke-width="2.5" stroke-miterlimit="10"/>
<path d="M456.5 327.21L457.76 331.07L461.83 331.07L458.53 333.47L459.79 337.34L456.5 334.94L453.21 337.34L454.47 333.47L451.17 331.07L455.24 331.07Z" fill="#00ff00" stroke="#00ff00" stroke-width="2.5" stroke-miterlimit="10"/>
<path d="M487 350.29L488.26 354.16L492.33 354.16L489.03 356.55L490.29 360.42L487 358.03L483.71 360.42L484.97 356.55L481.67 354.16L485.74 354.16Z" fill="#00ff00" stroke="#00ff00" stroke-width="2.5" stroke-miterlimit="10"/>
<path d="M517.5 373.37L518.76 377.24L522.83 377.24L519.53 379.64L520.79 383.51L517.5 381.11L514.21 383.51L515.47 379.64L512.17 377.24L516.24 377.24Z" fill="#00ff00" stroke="#00ff00" stroke-width="2.5" stroke-miterlimit="10"/>
<path d="M548 396.46L549.26 400.33L553.33 400.33L550.03 402.72L551.29 406.59L548 404.2L544.71 406.59L545.97 402.72L542.67 400.33L546.74 400.33Z" fill="#00ff00" stroke="#00ff00" stroke-width="2.5" stroke-miterlimit="10"/>
<path d="M578.5 419.54L579.76 423.41L583.83 423.41L580.53 425.81L581.79 429.68L578.5 427.28L575.21 429.68L576.47 425.81L573.17 423.41L577.24 423.41Z" fill="#00ff00" stroke="#00ff00" stroke-width="2.5" stroke-miterlimit="10"/>
<path d="M609 442.63L610.26 446.5L614.33 446.5L611.03 448.89L612.29 452.76L609 450.37L605.71 452.76L606.97 448.89L603.67 446.5L607.74 446.5Z" fill="#00ff00" stroke="#00ff00" stroke-width="2.5" stroke-miterlimit="10"/>
<path d="M639.5 465.71L640.76 469.58L644.83 469.58L641.53 471.98L642.79 475.85L639.5 473.45L636.21 475.85L637.47 471.98L634.17 469.58L638.24 469.58Z" fill="#00ff00" stroke="#00ff00" stroke-width="2.5" stroke-miterlimit="10"/>
<path d="M60 32.7L60.61 32.7L61.22 32.7L61.83 32.7L62.44 32.71L63.05 32.71L63.66 32.72L64.27 32.72L64.88 32.73L65.49 32.74L66.1 32.75L66.71 32.76L67.32 32.77L67.93 32.78L68.54 32.79L69.15 32.8L69.76 32.82L70.37 32.83L70.98 32.85L71.59 32.87L72.2 32.88L72.81 32.9L73.42 32.92L74.03 32.94L74.64 32.97L75.25 32.99L75.86 33.01L76.47 33.04L77.08 33.06L77.69 33.09L78.3 33.12L78.91 33.14L79.52 33.17L80.13 33.2L80.74 33.23L81.35 33.27L81.96 33.3L82.57 33.33L83.18 33.37L83.79 33.4L84.4 33.44L85.01 33.48L85.62 33.51L86.23 33.55L86.84 33.59L87.45 33.63L88.06 33.68L88.67 33.72L89.28 33.76L89.89 33.81L90.5 33.85L91.11 33.9L91.72 33.95L92.33 34L92.94 34.05L93.55 34.1L94.16 34.15L94.77 34.2L95.38 34.25L95.99 34.31L96.6 34.36L97.21 34.42L97.82 34.47L98.43 34.53L99.04 34.59L99.65 34.65L100.26 34.71L100.87 34.77L101.48 34.83L102.09 34.9L102.7 34.96L103.31 35.03L103.92 35.09L104.53 35.16L105.14 35.23L105.75 35.3L106.36 35.37L106.97 35.44L107.58 35.51L108.19 35.58L108.8 35.65L109.41 35.73L110.02 35.8L110.63 35.88L111.24 35.96L111.85 36.04L112.46 36.11L113.07 36.19L113.68 36.28L114.29 36.36L114.9 36.44L115.51 36.52L116.12 36.61L116.73 36.69L117.34 36.78L117.95 36.87L118.56 36.96L119.17 37.04L119.78 37.13L120.39 37.23L121 37.32L121.61 37.41L122.22 37.5L122.83 37.6L123.44 37.69L124.05 37.79L124.66 37.89L125.27 37.99L125.88 38.09L126.49 38.19L127.1 38.29L127.71 38.39L128.32 38.49L128.93 38.6L129.54 38.7L130.15 38.81L130.76 38.91L131.37 39.02L131.98 39.13L132.59 39.24L133.2 39.35L133.81 39.46L134.42 39.57L135.03 39.69L135.64 39.8L136.25 39.91L136.86 40.03L137.47 40.15L138.08 40.26L138.69 40.38L139.3 40.5L139.91 40.62L140.52 40.74L141.13 40.87L141.74 40.99L142.35 41.11L142.96 41.24L143.57 41.37L144.18 41.49L144.79 41.62L145.4 41.75L146.01 41.88L146.62 42.01L147.23 42.14L147.84 42.27L148.45 42.41L149.06 42.54L149.67 42.68L150.28 42.81L150.89 42.95L151.5 43.09L152.11 43.23L152.72 43.37L153.33 43.51L153.94 43.65L154.55 43.79L155.16 43.94L155.77 44.08L156.38 44.23L156.99 44.37L157.6 44.52L158.21 44.67L158.82 44.82L159.43 44.97L160.04 45.12L160.65 45.27L161.26 45.42L161.87 45.58L162.48 45.73L163.09 45.89L163.7 46.04L164.31 46.2L164.92 46.36L165.53 46.52L166.14 46.68L166.75 46.84L167.36 47L167.97 47.16L168.58 47.33L169.19 47.49L169.8 47.66L170.41 47.83L171.02 47.99L171.63 48.16L172.24 48.33L172.85 48.5L173.46 48.67L174.07 48.85L174.68 49.02L175.29 49.19L175.9 49.37L176.51 49.54L177.12 49.72L177.73 49.9L178.34 50.08L178.95 50.26L179.56 50.44L180.17 50.62L180.78 50.8L181.39 50.98L182 51.17L182.61 51.35L183.22 51.54L183.83 51.73L184.44 51.91L185.05 52.1L185.66 52.29L186.27 52.48L186.88 52.67L187.49 52.87L188.1 53.06L188.71 53.26L189.32 53.45L189.93 53.65L190.54 53.84L191.15 54.04L191.76 54.24L192.37 54.44L192.98 54.64L193.59 54.84L194.2 55.05L194.81 55.25L195.42 55.45L196.03 55.66L196.64 55.87L197.25 56.07L197.86 56.28L198.47 56.49L199.08 56.7L199.69 56.91L200.3 57.12L200.91 57.34L201.52 57.55L202.13 57.77L202.74 57.98L203.35 58.2L203.96 58.41L204.57 58.63L205.18 58.85L205.79 59.07L206.4 59.29L207.01 59.52L207.62 59.74L208.23 59.96L208.84 60.19L209.45 60.41L210.06 60.64L210.67 60.87L211.28 61.1L211.89 61.33L212.5 61.56L213.11 61.79L213.72 62.02L214.33 62.25L214.94 62.49L215.55 62.72L216.16 62.96L216.77 63.19L217.38 63.43L217.99 63.67L218.6 63.91L219.21 64.15L219.82 64.39L220.43 64.64L221.04 64.88L221.65 65.12L222.26 65.37L222.87 65.61L223.48 65.86L224.09 66.11L224.7 66.36L225.31 66.61L225.92 66.86L226.53 67.11L227.14 67.36L227.75 67.62L228.36 67.87L228.97 68.13L229.58 68.38L230.19 68.64L230.8 68.9L231.41 69.16L232.02 69.42L232.63 69.68L233.24 69.94L233.85 70.2L234.46 70.47L235.07 70.73L235.68 71L236.29 71.26L236.9 71.53L237.51 71.8L238.12 72.07L238.73 72.34L239.34 72.61L239.95 72.88L240.56 73.15L241.17 73.43L241.78 73.7L242.39 73.98L243 74.25L243.61 74.53L244.22 74.81L244.83 75.09L245.44 75.37L246.05 75.65L246.66 75.93L247.27 76.21L247.88 76.5L248.49 76.78L249.1 77.07L249.71 77.36L250.32 77.64L250.93 77.93L251.54 78.22L252.15 78.51L252.76 78.8L253.37 79.1L253.98 79.39L254.59 79.68L255.2 79.98L255.81 80.27L256.42 80.57L257.03 80.87L257.64 81.17L258.25 81.47L258.86 81.77L259.47 82.07L260.08 82.37L260.69 82.67L261.3 82.98L261.91 83.28L262.52 83.59L263.13 83.9L263.74 84.21L264.35 84.51L264.96 84.82L265.57 85.13L266.18 85.45L266.79 85.76L267.4 86.07L268.01 86.39L268.62 86.7L269.23 87.02L269.84 87.34L270.45 87.65L271.06 87.97L271.67 88.29L272.28 88.61L272.89 88.94L273.5 89.26L274.11 89.58L274.72 89.91L275.33 90.23L275.94 90.56L276.55 90.89L277.16 91.21L277.77 91.54L278.38 91.87L278.99 92.2L279.6 92.54L280.21 92.87L280.82 93.2L281.43 93.54L282.04 93.87L282.65 94.21L283.26 94.55L283.87 94.89L284.48 95.23L285.09 95.57L285.7 95.91L286.31 96.25L286.92 96.59L287.53 96.94L288.14 97.28L288.75 97.63L289.36 97.97L289.97 98.32L290.58 98.67L291.19 99.02L291.8 99.37L292.41 99.72L293.02 100.07L293.63 100.43L294.24 100.78L294.85 101.14L295.46 101.49L296.07 101.85L296.68 102.21L297.29 102.56L297.9 102.92L298.51 103.29L299.12 103.65L299.73 104.01L300.34 104.37L300.95 104.74L301.56 105.1L302.17 105.47L302.78 105.84L303.39 106.2L304 106.57L304.61 106.94L305.22 107.31L305.83 107.68L306.44 108.06L307.05 108.43L307.66 108.8L308.27 109.18L308.88 109.56L309.49 109.93L310.1 110.31L310.71 110.69L311.32 111.07L311.93 111.45L312.54 111.83L313.15 112.22L313.76 112.6L314.37 112.98L314.98 113.37L315.59 113.76L316.2 114.14L316.81 114.53L317.42 114.92L318.03 115.31L318.64 115.7L319.25 116.09L319.86 116.49L320.47 116.88L321.08 117.28L321.69 117.67L322.3 118.07L322.91 118.47L323.52 118.86L324.13 119.26L324.74 119.66L325.35 120.07L325.96 120.47L326.57 120.87L327.18 121.27L327.79 121.68L328.4 122.09L329.01 122.49L329.62 122.9L330.23 123.31L330.84 123.72L331.45 124.13L332.06 124.54L332.67 124.95L333.28 125.37L333.89 125.78L334.5 126.19L335.11 126.61L335.72 127.03L336.33 127.44L336.94 127.86L337.55 128.28L338.16 128.7L338.77 129.13L339.38 129.55L339.99 129.97L340.6 130.4L341.21 130.82L341.82 131.25L342.43 131.67L343.04 132.1L343.65 132.53L344.26 132.96L344.87 133.39L345.48 133.82L346.09 134.26L346.7 134.69L347.31 135.12L347.92 135.56L348.53 136L349.14 136.43L349.75 136.87L350.36 137.31L350.97 137.75L351.58 138.19L352.19 138.63L352.8 139.08L353.41 139.52L354.02 139.96L354.63 140.41L355.24 140.86L355.85 141.3L356.46 141.75L357.07 142.2L357.68 142.65L358.29 143.1L358.9 143.55L359.51 144.01L360.12 144.46L360.73 144.92L361.34 145.37L361.95 145.83L362.56 146.29L363.17 146.74L363.78 147.2L364.39 147.66L365 148.12L365.61 148.59L366.22 149.05L366.83 149.51L367.44 149.98L368.05 150.45L368.66 150.91L369.27 151.38L369.88 151.85L370.49 152.32L371.1 152.79L371.71 153.26L372.32 153.73L372.93 154.21L373.54 154.68L374.15 155.15L374.76 155.63L375.37 156.11L375.98 156.59L376.59 157.06L377.2 157.54L377.81 158.02L378.42 158.51L379.03 158.99L379.64 159.47L380.25 159.96L380.86 160.44L381.47 160.93L382.08 161.41L382.69 161.9L383.3 162.39L383.91 162.88L384.52 163.37L385.13 163.86L385.74 164.36L386.35 164.85L386.96 165.34L387.57 165.84L388.18 166.34L388.79 166.83L389.4 167.33L390.01 167.83L390.62 168.33L391.23 168.83L391.84 169.33L392.45 169.84L393.06 170.34L393.67 170.84L394.28 171.35L394.89 171.86L395.5 172.36L396.11 172.87L396.72 173.38L397.33 173.89L397.94 174.4L398.55 174.92L399.16 175.43L399.77 175.94L400.38 176.46L400.99 176.97L401.6 177.49L402.21 178.01L402.82 178.53L403.43 179.04L404.04 179.56L404.65 180.09L405.26 180.61L405.87 181.13L406.48 181.66L407.09 182.18L407.7 182.71L408.31 183.23L408.92 183.76L409.53 184.29L410.14 184.82L410.75 185.35L411.36 185.88L411.97 186.41L412.58 186.95L413.19 187.48L413.8 188.02L414.41 188.55L415.02 189.09L415.63 189.63L416.24 190.17L416.85 190.71L417.46 191.25L418.07 191.79L418.68 192.33L419.29 192.87L419.9 193.42L420.51 193.96L421.12 194.51L421.73 195.06L422.34 195.6L422.95 196.15L423.56 196.7L424.17 197.25L424.78 197.81L425.39 198.36L426 198.91L426.61 199.47L427.22 200.02L427.83 200.58L428.44 201.14L429.05 201.69L429.66 202.25L430.27 202.81L430.88 203.37L431.49 203.94L432.1 204.5L432.71 205.06L433.32 205.63L433.93 206.19L434.54 206.76L435.15 207.33L435.76 207.89L436.37 208.46L436.98 209.03L437.59 209.61L438.2 210.18L438.81 210.75L439.42 211.32L440.03 211.9L440.64 212.47L441.25 213.05L441.86 213.63L442.47 214.21L443.08 214.79L443.69 215.37L444.3 215.95L444.91 216.53L445.52 217.11L446.13 217.7L446.74 218.28L447.35 218.87L447.96 219.46L448.57 220.04L449.18 220.63L449.79 221.22L450.4 221.81L451.01 222.4L451.62 223L452.23 223.59L452.84 224.18L453.45 224.78L454.06 225.37L454.67 225.97L455.28 226.57L455.89 227.17L456.5 227.77L457.11 228.37L457.72 228.97L458.33 229.57L458.94 230.18L459.55 230.78L460.16 231.39L460.77 231.99L461.38 232.6L461.99 233.21L462.6 233.82L463.21 234.43L463.82 235.04L464.43 235.65L465.04 236.26L465.65 236.88L466.26 237.49L466.87 238.11L467.48 238.72L468.09 239.34L468.7 239.96L469.31 240.58L469.92 241.2L470.53 241.82L471.14 242.44L471.75 243.06L472.36 243.69L472.97 244.31L473.58 244.94L474.19 245.56L474.8 246.19L475.41 246.82L476.02 247.45L476.63 248.08L477.24 248.71L477.85 249.34L478.46 249.97L479.07 250.61L479.68 251.24L480.29 251.88L480.9 252.52L481.51 253.15L482.12 253.79L482.73 254.43L483.34 255.07L483.95 255.71L484.56 256.35L485.17 257L485.78 257.64L486.39 258.29L487 258.93L487.61 259.58L488.22 260.23L488.83 260.88L489.44 261.53L490.05 262.18L490.66 262.83L491.27 263.48L491.88 264.13L492.49 264.79L493.1 265.44L493.71 266.1L494.32 266.76L494.93 267.41L495.54 268.07L496.15 268.73L496.76 269.39L497.37 270.05L497.98 270.72L498.59 271.38L499.2 272.05L499.81 272.71L500.42 273.38L501.03 274.04L501.64 274.71L502.25 275.38L502.86 276.05L503.47 276.72L504.08 277.39L504.69 278.07L505.3 278.74L505.91 279.41L506.52 280.09L507.13 280.77L507.74 281.44L508.35 282.12L508.96 282.8L509.57 283.48L510.18 284.16L510.79 284.84L511.4 285.53L512.01 286.21L512.62 286.9L513.23 287.58L513.84 288.27L514.45 288.96L515.06 289.64L515.67 290.33L516.28 291.02L516.89 291.71L517.5 292.41L518.11 293.1L518.72 293.79L519.33 294.49L519.94 295.18L520.55 295.88L521.16 296.58L521.77 297.28L522.38 297.98L522.99 298.68L523.6 299.38L524.21 300.08L524.82 300.78L525.43 301.49L526.04 302.19L526.65 302.9L527.26 303.61L527.87 304.31L528.48 305.02L529.09 305.73L529.7 306.44L530.31 307.15L530.92 307.87L531.53 308.58L532.14 309.29L532.75 310.01L533.36 310.72L533.97 311.44L534.58 312.16L535.19 312.88L535.8 313.6L536.41 314.32L537.02 315.04L537.63 315.76L538.24 316.49L538.85 317.21L539.46 317.94L540.07 318.66L540.68 319.39L541.29 320.12L541.9 320.85L542.51 321.58L543.12 322.31L543.73 323.04L544.34 323.77L544.95 324.51L545.56 325.24L546.17 325.98L546.78 326.71L547.39 327.45L548 328.19L548.61 328.93L549.22 329.67L549.83 330.41L550.44 331.15L551.05 331.89L551.66 332.64L552.27 333.38L552.88 334.13L553.49 334.87L554.1 335.62L554.71 336.37L555.32 337.12L555.93 337.87L556.54 338.62L557.15 339.37L557.76 340.13L558.37 340.88L558.98 341.63L559.59 342.39L560.2 343.15L560.81 343.9L561.42 344.66L562.03 345.42L562.64 346.18L563.25 346.94L563.86 347.71L564.47 348.47L565.08 349.23L565.69 350L566.3 350.77L566.91 351.53L567.52 352.3L568.13 353.07L568.74 353.84L569.35 354.61L569.96 355.38L570.57 356.15L571.18 356.93L571.79 357.7L572.4 358.48L573.01 359.25L573.62 360.03L574.23 360.81L574.84 361.59L575.45 362.37L576.06 363.15L576.67 363.93L577.28 364.71L577.89 365.49L578.5 366.28L579.11 367.06L579.72 367.85L580.33 368.64L580.94 369.43L581.55 370.21L582.16 371L582.77 371.8L583.38 372.59L583.99 373.38L584.6 374.17L585.21 374.97L585.82 375.76L586.43 376.56L587.04 377.36L587.65 378.16L588.26 378.95L588.87 379.75L589.48 380.56L590.09 381.36L590.7 382.16L591.31 382.96L591.92 383.77L592.53 384.57L593.14 385.38L593.75 386.19L594.36 387L594.97 387.81L595.58 388.62L596.19 389.43L596.8 390.24L597.41 391.05L598.02 391.87L598.63 392.68L599.24 393.5L599.85 394.31L600.46 395.13L601.07 395.95L601.68 396.77L602.29 397.59L602.9 398.41L603.51 399.23L604.12 400.06L604.73 400.88L605.34 401.71L605.95 402.53L606.56 403.36L607.17 404.19L607.78 405.02L608.39 405.85L609 406.68L609.61 407.51L610.22 408.34L610.83 409.17L611.44 410.01L612.05 410.84L612.66 411.68L613.27 412.52L613.88 413.36L614.49 414.19L615.1 415.03L615.71 415.87L616.32 416.72L616.93 417.56L617.54 418.4L618.15 419.25L618.76 420.09L619.37 420.94L619.98 421.79L620.59 422.63L621.2 423.48L621.81 424.33L622.42 425.18L623.03 426.04L623.64 426.89L624.25 427.74L624.86 428.6L625.47 429.45L626.08 430.31L626.69 431.17L627.3 432.02L627.91 432.88L628.52 433.74L629.13 434.6L629.74 435.47L630.35 436.33L630.96 437.19L631.57 438.06L632.18 438.92L632.79 439.79L633.4 440.66L634.01 441.53L634.62 442.4L635.23 443.27L635.84 444.14L636.45 445.01L637.06 445.88L637.67 446.76L638.28 447.63L638.89 448.51L639.5 449.38L640.11 450.26L640.72 451.14L641.33 452.02L641.94 452.9L642.55 453.78L643.16 454.66L643.77 455.55L644.38 456.43L644.99 457.32L645.6 458.2L646.21 459.09L646.82 459.98L647.43 460.87L648.04 461.76L648.65 462.65L649.26 463.54L649.87 464.43L650.48 465.32L651.09 466.22L651.7 467.11L652.31 468.01L652.92 468.91L653.53 469.8L654.14 470.7L654.75 471.6L655.36 472.5L655.97 473.41L656.58 474.31L657.19 475.21L657.8 476.12L658.41 477.02L659.02 477.93L659.63 478.84L660.24 479.74L660.85 480.65L661.46 481.56L662.07 482.47L662.68 483.39L663.29 484.3L663.9 485.21L664.51 486.13L665.12 487.04L665.73 487.96L666.34 488.88L666.95 489.79L667.56 490.71L668.17 491.63L668.78 492.56L669.39 493.48L670 494.4" stroke="#0000ff" stroke-width="2.5" fill="none" stroke-linejoin="round"/>
<path d="M54.3 33H65.7M60 27.9V38.1M55.7 28.7L64.3 37.3M55.7 37.3L64.3 28.7" fill="none" stroke="#0000ff" stroke-width="2.3"/>
<path d="M84.8 34.15H96.2M90.5 29.05V39.25M86.2 29.85L94.8 38.45M86.2 38.45L94.8 29.85" fill="none" stroke="#0000ff" stroke-width="2.3"/>
<path d="M115.3 37.62H126.7M121 32.52V42.72M116.7 33.32L125.3 41.92M116.7 41.92L125.3 33.32" fill="none" stroke="#0000ff" stroke-width="2.3"/>
<path d="M145.8 43.39H157.2M151.5 38.29V48.49M147.2 39.09L155.8 47.69M147.2 47.69L155.8 39.09" fill="none" stroke="#0000ff" stroke-width="2.3"/>
<path d="M176.3 51.47H187.7M182 46.37V56.57M177.7 47.17L186.3 55.77M177.7 55.77L186.3 47.17" fill="none" stroke="#0000ff" stroke-width="2.3"/>
<path d="M206.8 61.86H218.2M212.5 56.76V66.96M208.2 57.56L216.8 66.16M208.2 66.16L216.8 57.56" fill="none" stroke="#0000ff" stroke-width="2.3"/>
<path d="M237.3 74.55H248.7M243 69.45V79.65M238.7 70.25L247.3 78.85M238.7 78.85L247.3 70.25" fill="none" stroke="#0000ff" stroke-width="2.3"/>
<path d="M267.8 89.56H279.2M273.5 84.46V94.66M269.2 85.26L277.8 93.86M269.2 93.86L277.8 85.26" fill="none" stroke="#0000ff" stroke-width="2.3"/>
<path d="M298.3 106.87H309.7M304 101.77V111.97M299.7 102.57L308.3 111.17M299.7 111.17L308.3 102.57" fill="none" stroke="#0000ff" stroke-width="2.3"/>
<path d="M328.8 126.49H340.2M334.5 121.39V131.59M330.2 122.19L338.8 130.79M330.2 130.79L338.8 122.19" fill="none" stroke="#0000ff" stroke-width="2.3"/>
<path d="M359.3 148.43H370.7M365 143.33V153.53M360.7 144.12L369.3 152.73M360.7 152.73L369.3 144.12" fill="none" stroke="#0000ff" stroke-width="2.3"/>
<path d="M389.8 172.66H401.2M395.5 167.56V177.76M391.2 168.36L399.8 176.96M391.2 176.96L399.8 168.36" fill="none" stroke="#0000ff" stroke-width="2.3"/>
<path d="M420.3 199.21H431.7M426 194.11V204.31M421.7 194.91L430.3 203.51M421.7 203.51L430.3 194.91" fill="none" stroke="#0000ff" stroke-width="2.3"/>
<path d="M450.8 228.07H462.2M456.5 222.97V233.17M452.2 223.77L460.8 232.37M452.2 232.37L460.8 223.77" fill="none" stroke="#0000ff" stroke-width="2.3"/>
<path d="M481.3 259.23H492.7M487 254.13V264.33M482.7 254.93L491.3 263.53M482.7 263.53L491.3 254.93" fill="none" stroke="#0000ff" stroke-width="2.3"/>
<path d="M511.8 292.71H523.2M517.5 287.61V297.81M513.2 288.41L521.8 297.01M513.2 297.01L521.8 288.41" fill="none" stroke="#0000ff" stroke-width="2.3"/>
<path d="M542.3 328.49H553.7M548 323.39V333.59M543.7 324.19L552.3 332.79M543.7 332.79L552.3 324.19" fill="none" stroke="#0000ff" stroke-width="2.3"/>
<path d="M572.8 366.58H584.2M578.5 361.48V371.68M574.2 362.28L582.8 370.88M574.2 370.88L582.8 362.28" fill="none" stroke="#0000ff" stroke-width="2.3"/>
<path d="M603.3 406.98H614.7M609 401.88V412.08M604.7 402.68L613.3 411.28M604.7 411.28L613.3 402.68" fill="none" stroke="#0000ff" stroke-width="2.3"/>
<path d="M633.8 449.68H645.2M639.5 444.58V454.78M635.2 445.38L643.8 453.98M635.2 453.98L643.8 445.38" fill="none" stroke="#0000ff" stroke-width="2.3"/>
<path d="M60 32.7L60.61 33.62L61.22 34.54L61.83 35.47L62.44 36.39L63.05 37.31L63.66 38.22L64.27 39.14L64.88 40.06L65.49 40.97L66.1 41.89L66.71 42.8L67.32 43.71L67.93 44.63L68.54 45.54L69.15 46.45L69.76 47.36L70.37 48.26L70.98 49.17L71.59 50.08L72.2 50.98L72.81 51.89L73.42 52.79L74.03 53.69L74.64 54.6L75.25 55.5L75.86 56.4L76.47 57.3L77.08 58.19L77.69 59.09L78.3 59.99L78.91 60.88L79.52 61.78L80.13 62.67L80.74 63.56L81.35 64.45L81.96 65.34L82.57 66.23L83.18 67.12L83.79 68.01L84.4 68.9L85.01 69.78L85.62 70.67L86.23 71.55L86.84 72.44L87.45 73.32L88.06 74.2L88.67 75.08L89.28 75.96L89.89 76.84L90.5 77.72L91.11 78.59L91.72 79.47L92.33 80.34L92.94 81.22L93.55 82.09L94.16 82.96L94.77 83.83L95.38 84.7L95.99 85.57L96.6 86.44L97.21 87.31L97.82 88.18L98.43 89.04L99.04 89.91L99.65 90.77L100.26 91.63L100.87 92.5L101.48 93.36L102.09 94.22L102.7 95.08L103.31 95.93L103.92 96.79L104.53 97.65L105.14 98.5L105.75 99.36L106.36 100.21L106.97 101.06L107.58 101.92L108.19 102.77L108.8 103.62L109.41 104.47L110.02 105.31L110.63 106.16L111.24 107.01L111.85 107.85L112.46 108.7L113.07 109.54L113.68 110.38L114.29 111.23L114.9 112.07L115.51 112.91L116.12 113.74L116.73 114.58L117.34 115.42L117.95 116.26L118.56 117.09L119.17 117.93L119.78 118.76L120.39 119.59L121 120.42L121.61 121.25L122.22 122.08L122.83 122.91L123.44 123.74L124.05 124.57L124.66 125.39L125.27 126.22L125.88 127.04L126.49 127.87L127.1 128.69L127.71 129.51L128.32 130.33L128.93 131.15L129.54 131.97L130.15 132.79L130.76 133.6L131.37 134.42L131.98 135.23L132.59 136.05L133.2 136.86L133.81 137.67L134.42 138.48L135.03 139.29L135.64 140.1L136.25 140.91L136.86 141.72L137.47 142.53L138.08 143.33L138.69 144.14L139.3 144.94L139.91 145.74L140.52 146.54L141.13 147.35L141.74 148.15L142.35 148.94L142.96 149.74L143.57 150.54L144.18 151.34L144.79 152.13L145.4 152.93L146.01 153.72L146.62 154.51L147.23 155.3L147.84 156.1L148.45 156.89L149.06 157.67L149.67 158.46L150.28 159.25L150.89 160.04L151.5 160.82L152.11 161.61L152.72 162.39L153.33 163.17L153.94 163.95L154.55 164.73L155.16 165.51L155.77 166.29L156.38 167.07L156.99 167.85L157.6 168.62L158.21 169.4L158.82 170.17L159.43 170.95L160.04 171.72L160.65 172.49L161.26 173.26L161.87 174.03L162.48 174.8L163.09 175.57L163.7 176.33L164.31 177.1L164.92 177.87L165.53 178.63L166.14 179.39L166.75 180.16L167.36 180.92L167.97 181.68L168.58 182.44L169.19 183.2L169.8 183.95L170.41 184.71L171.02 185.47L171.63 186.22L172.24 186.97L172.85 187.73L173.46 188.48L174.07 189.23L174.68 189.98L175.29 190.73L175.9 191.48L176.51 192.23L177.12 192.97L177.73 193.72L178.34 194.46L178.95 195.21L179.56 195.95L180.17 196.69L180.78 197.43L181.39 198.17L182 198.91L182.61 199.65L183.22 200.39L183.83 201.12L184.44 201.86L185.05 202.59L185.66 203.33L186.27 204.06L186.88 204.79L187.49 205.52L188.1 206.25L188.71 206.98L189.32 207.71L189.93 208.44L190.54 209.16L191.15 209.89L191.76 210.61L192.37 211.34L192.98 212.06L193.59 212.78L194.2 213.5L194.81 214.22L195.42 214.94L196.03 215.66L196.64 216.38L197.25 217.09L197.86 217.81L198.47 218.52L199.08 219.23L199.69 219.95L200.3 220.66L200.91 221.37L201.52 222.08L202.13 222.79L202.74 223.49L203.35 224.2L203.96 224.91L204.57 225.61L205.18 226.32L205.79 227.02L206.4 227.72L207.01 228.42L207.62 229.12L208.23 229.82L208.84 230.52L209.45 231.22L210.06 231.92L210.67 232.61L211.28 233.31L211.89 234L212.5 234.69L213.11 235.39L213.72 236.08L214.33 236.77L214.94 237.46L215.55 238.14L216.16 238.83L216.77 239.52L217.38 240.2L217.99 240.89L218.6 241.57L219.21 242.26L219.82 242.94L220.43 243.62L221.04 244.3L221.65 244.98L222.26 245.66L222.87 246.33L223.48 247.01L224.09 247.69L224.7 248.36L225.31 249.03L225.92 249.71L226.53 250.38L227.14 251.05L227.75 251.72L228.36 252.39L228.97 253.06L229.58 253.72L230.19 254.39L230.8 255.05L231.41 255.72L232.02 256.38L232.63 257.05L233.24 257.71L233.85 258.37L234.46 259.03L235.07 259.69L235.68 260.34L236.29 261L236.9 261.66L237.51 262.31L238.12 262.97L238.73 263.62L239.34 264.27L239.95 264.92L240.56 265.57L241.17 266.22L241.78 266.87L242.39 267.52L243 268.17L243.61 268.81L244.22 269.46L244.83 270.1L245.44 270.75L246.05 271.39L246.66 272.03L247.27 272.67L247.88 273.31L248.49 273.95L249.1 274.58L249.71 275.22L250.32 275.86L250.93 276.49L251.54 277.13L252.15 277.76L252.76 278.39L253.37 279.02L253.98 279.65L254.59 280.28L255.2 280.91L255.81 281.54L256.42 282.16L257.03 282.79L257.64 283.41L258.25 284.04L258.86 284.66L259.47 285.28L260.08 285.9L260.69 286.52L261.3 287.14L261.91 287.76L262.52 288.38L263.13 288.99L263.74 289.61L264.35 290.22L264.96 290.84L265.57 291.45L266.18 292.06L266.79 292.67L267.4 293.28L268.01 293.89L268.62 294.5L269.23 295.11L269.84 295.71L270.45 296.32L271.06 296.92L271.67 297.53L272.28 298.13L272.89 298.73L273.5 299.33L274.11 299.93L274.72 300.53L275.33 301.13L275.94 301.73L276.55 302.32L277.16 302.92L277.77 303.51L278.38 304.1L278.99 304.7L279.6 305.29L280.21 305.88L280.82 306.47L281.43 307.06L282.04 307.64L282.65 308.23L283.26 308.82L283.87 309.4L284.48 309.99L285.09 310.57L285.7 311.15L286.31 311.73L286.92 312.31L287.53 312.89L288.14 313.47L288.75 314.05L289.36 314.63L289.97 315.2L290.58 315.78L291.19 316.35L291.8 316.92L292.41 317.49L293.02 318.07L293.63 318.64L294.24 319.21L294.85 319.77L295.46 320.34L296.07 320.91L296.68 321.47L297.29 322.04L297.9 322.6L298.51 323.16L299.12 323.73L299.73 324.29L300.34 324.85L300.95 325.41L301.56 325.96L302.17 326.52L302.78 327.08L303.39 327.63L304 328.19L304.61 328.74L305.22 329.29L305.83 329.85L306.44 330.4L307.05 330.95L307.66 331.5L308.27 332.04L308.88 332.59L309.49 333.14L310.1 333.68L310.71 334.23L311.32 334.77L311.93 335.31L312.54 335.85L313.15 336.39L313.76 336.93L314.37 337.47L314.98 338.01L315.59 338.55L316.2 339.08L316.81 339.62L317.42 340.15L318.03 340.69L318.64 341.22L319.25 341.75L319.86 342.28L320.47 342.81L321.08 343.34L321.69 343.87L322.3 344.39L322.91 344.92L323.52 345.44L324.13 345.97L324.74 346.49L325.35 347.01L325.96 347.54L326.57 348.06L327.18 348.57L327.79 349.09L328.4 349.61L329.01 350.13L329.62 350.64L330.23 351.16L330.84 351.67L331.45 352.18L332.06 352.7L332.67 353.21L333.28 353.72L333.89 354.23L334.5 354.74L335.11 355.24L335.72 355.75L336.33 356.26L336.94 356.76L337.55 357.26L338.16 357.77L338.77 358.27L339.38 358.77L339.99 359.27L340.6 359.77L341.21 360.27L341.82 360.76L342.43 361.26L343.04 361.76L343.65 362.25L344.26 362.74L344.87 363.24L345.48 363.73L346.09 364.22L346.7 364.71L347.31 365.2L347.92 365.69L348.53 366.17L349.14 366.66L349.75 367.14L350.36 367.63L350.97 368.11L351.58 368.59L352.19 369.08L352.8 369.56L353.41 370.04L354.02 370.51L354.63 370.99L355.24 371.47L355.85 371.95L356.46 372.42L357.07 372.89L357.68 373.37L358.29 373.84L358.9 374.31L359.51 374.78L360.12 375.25L360.73 375.72L361.34 376.19L361.95 376.65L362.56 377.12L363.17 377.59L363.78 378.05L364.39 378.51L365 378.97L365.61 379.44L366.22 379.9L366.83 380.36L367.44 380.81L368.05 381.27L368.66 381.73L369.27 382.18L369.88 382.64L370.49 383.09L371.1 383.55L371.71 384L372.32 384.45L372.93 384.9L373.54 385.35L374.15 385.8L374.76 386.24L375.37 386.69L375.98 387.14L376.59 387.58L377.2 388.02L377.81 388.47L378.42 388.91L379.03 389.35L379.64 389.79L380.25 390.23L380.86 390.67L381.47 391.1L382.08 391.54L382.69 391.98L383.3 392.41L383.91 392.84L384.52 393.28L385.13 393.71L385.74 394.14L386.35 394.57L386.96 395L387.57 395.43L388.18 395.85L388.79 396.28L389.4 396.7L390.01 397.13L390.62 397.55L391.23 397.97L391.84 398.4L392.45 398.82L393.06 399.24L393.67 399.66L394.28 400.07L394.89 400.49L395.5 400.91L396.11 401.32L396.72 401.73L397.33 402.15L397.94 402.56L398.55 402.97L399.16 403.38L399.77 403.79L400.38 404.2L400.99 404.61L401.6 405.01L402.21 405.42L402.82 405.83L403.43 406.23L404.04 406.63L404.65 407.03L405.26 407.44L405.87 407.84L406.48 408.24L407.09 408.63L407.7 409.03L408.31 409.43L408.92 409.82L409.53 410.22L410.14 410.61L410.75 411.01L411.36 411.4L411.97 411.79L412.58 412.18L413.19 412.57L413.8 412.96L414.41 413.34L415.02 413.73L415.63 414.12L416.24 414.5L416.85 414.88L417.46 415.27L418.07 415.65L418.68 416.03L419.29 416.41L419.9 416.79L420.51 417.17L421.12 417.54L421.73 417.92L422.34 418.3L422.95 418.67L423.56 419.04L424.17 419.42L424.78 419.79L425.39 420.16L426 420.53L426.61 420.9L427.22 421.26L427.83 421.63L428.44 422L429.05 422.36L429.66 422.73L430.27 423.09L430.88 423.45L431.49 423.81L432.1 424.18L432.71 424.54L433.32 424.89L433.93 425.25L434.54 425.61L435.15 425.96L435.76 426.32L436.37 426.67L436.98 427.03L437.59 427.38L438.2 427.73L438.81 428.08L439.42 428.43L440.03 428.78L440.64 429.13L441.25 429.47L441.86 429.82L442.47 430.16L443.08 430.51L443.69 430.85L444.3 431.19L444.91 431.53L445.52 431.87L446.13 432.21L446.74 432.55L447.35 432.89L447.96 433.23L448.57 433.56L449.18 433.9L449.79 434.23L450.4 434.56L451.01 434.9L451.62 435.23L452.23 435.56L452.84 435.89L453.45 436.21L454.06 436.54L454.67 436.87L455.28 437.19L455.89 437.52L456.5 437.84L457.11 438.16L457.72 438.49L458.33 438.81L458.94 439.13L459.55 439.45L460.16 439.76L460.77 440.08L461.38 440.4L461.99 440.71L462.6 441.03L463.21 441.34L463.82 441.65L464.43 441.97L465.04 442.28L465.65 442.59L466.26 442.89L466.87 443.2L467.48 443.51L468.09 443.82L468.7 444.12L469.31 444.43L469.92 444.73L470.53 445.03L471.14 445.33L471.75 445.63L472.36 445.93L472.97 446.23L473.58 446.53L474.19 446.83L474.8 447.12L475.41 447.42L476.02 447.71L476.63 448L477.24 448.3L477.85 448.59L478.46 448.88L479.07 449.17L479.68 449.46L480.29 449.74L480.9 450.03L481.51 450.32L482.12 450.6L482.73 450.89L483.34 451.17L483.95 451.45L484.56 451.73L485.17 452.01L485.78 452.29L486.39 452.57L487 452.85L487.61 453.12L488.22 453.4L488.83 453.67L489.44 453.95L490.05 454.22L490.66 454.49L491.27 454.76L491.88 455.03L492.49 455.3L493.1 455.57L493.71 455.84L494.32 456.1L494.93 456.37L495.54 456.63L496.15 456.9L496.76 457.16L497.37 457.42L497.98 457.68L498.59 457.94L499.2 458.2L499.81 458.46L500.42 458.72L501.03 458.97L501.64 459.23L502.25 459.48L502.86 459.74L503.47 459.99L504.08 460.24L504.69 460.49L505.3 460.74L505.91 460.99L506.52 461.24L507.13 461.49L507.74 461.73L508.35 461.98L508.96 462.22L509.57 462.46L510.18 462.71L510.79 462.95L511.4 463.19L512.01 463.43L512.62 463.67L513.23 463.91L513.84 464.14L514.45 464.38L515.06 464.61L515.67 464.85L516.28 465.08L516.89 465.31L517.5 465.54L518.11 465.77L518.72 466L519.33 466.23L519.94 466.46L520.55 466.69L521.16 466.91L521.77 467.14L522.38 467.36L522.99 467.58L523.6 467.81L524.21 468.03L524.82 468.25L525.43 468.47L526.04 468.69L526.65 468.9L527.26 469.12L527.87 469.33L528.48 469.55L529.09 469.76L529.7 469.98L530.31 470.19L530.92 470.4L531.53 470.61L532.14 470.82L532.75 471.03L533.36 471.23L533.97 471.44L534.58 471.65L535.19 471.85L535.8 472.05L536.41 472.26L537.02 472.46L537.63 472.66L538.24 472.86L538.85 473.06L539.46 473.26L540.07 473.45L540.68 473.65L541.29 473.84L541.9 474.04L542.51 474.23L543.12 474.43L543.73 474.62L544.34 474.81L544.95 475L545.56 475.19L546.17 475.37L546.78 475.56L547.39 475.75L548 475.93L548.61 476.12L549.22 476.3L549.83 476.48L550.44 476.66L551.05 476.84L551.66 477.02L552.27 477.2L552.88 477.38L553.49 477.56L554.1 477.73L554.71 477.91L555.32 478.08L555.93 478.25L556.54 478.43L557.15 478.6L557.76 478.77L558.37 478.94L558.98 479.11L559.59 479.27L560.2 479.44L560.81 479.61L561.42 479.77L562.03 479.94L562.64 480.1L563.25 480.26L563.86 480.42L564.47 480.58L565.08 480.74L565.69 480.9L566.3 481.06L566.91 481.21L567.52 481.37L568.13 481.52L568.74 481.68L569.35 481.83L569.96 481.98L570.57 482.13L571.18 482.28L571.79 482.43L572.4 482.58L573.01 482.73L573.62 482.87L574.23 483.02L574.84 483.16L575.45 483.31L576.06 483.45L576.67 483.59L577.28 483.73L577.89 483.87L578.5 484.01L579.11 484.15L579.72 484.29L580.33 484.42L580.94 484.56L581.55 484.69L582.16 484.83L582.77 484.96L583.38 485.09L583.99 485.22L584.6 485.35L585.21 485.48L585.82 485.61L586.43 485.73L587.04 485.86L587.65 485.99L588.26 486.11L588.87 486.23L589.48 486.36L590.09 486.48L590.7 486.6L591.31 486.72L591.92 486.84L592.53 486.95L593.14 487.07L593.75 487.19L594.36 487.3L594.97 487.41L595.58 487.53L596.19 487.64L596.8 487.75L597.41 487.86L598.02 487.97L598.63 488.08L599.24 488.19L599.85 488.29L600.46 488.4L601.07 488.5L601.68 488.61L602.29 488.71L602.9 488.81L603.51 488.91L604.12 489.01L604.73 489.11L605.34 489.21L605.95 489.31L606.56 489.41L607.17 489.5L607.78 489.6L608.39 489.69L609 489.78L609.61 489.87L610.22 489.97L610.83 490.06L611.44 490.14L612.05 490.23L612.66 490.32L613.27 490.41L613.88 490.49L614.49 490.58L615.1 490.66L615.71 490.74L616.32 490.82L616.93 490.91L617.54 490.99L618.15 491.06L618.76 491.14L619.37 491.22L619.98 491.3L620.59 491.37L621.2 491.45L621.81 491.52L622.42 491.59L623.03 491.66L623.64 491.73L624.25 491.8L624.86 491.87L625.47 491.94L626.08 492.01L626.69 492.07L627.3 492.14L627.91 492.2L628.52 492.27L629.13 492.33L629.74 492.39L630.35 492.45L630.96 492.51L631.57 492.57L632.18 492.63L632.79 492.68L633.4 492.74L634.01 492.79L634.62 492.85L635.23 492.9L635.84 492.95L636.45 493L637.06 493.05L637.67 493.1L638.28 493.15L638.89 493.2L639.5 493.25L640.11 493.29L640.72 493.34L641.33 493.38L641.94 493.42L642.55 493.47L643.16 493.51L643.77 493.55L644.38 493.59L644.99 493.62L645.6 493.66L646.21 493.7L646.82 493.73L647.43 493.77L648.04 493.8L648.65 493.83L649.26 493.87L649.87 493.9L650.48 493.93L651.09 493.96L651.7 493.98L652.31 494.01L652.92 494.04L653.53 494.06L654.14 494.09L654.75 494.11L655.36 494.13L655.97 494.16L656.58 494.18L657.19 494.2L657.8 494.22L658.41 494.23L659.02 494.25L659.63 494.27L660.24 494.28L660.85 494.3L661.46 494.31L662.07 494.32L662.68 494.33L663.29 494.34L663.9 494.35L664.51 494.36L665.12 494.37L665.73 494.38L666.34 494.38L666.95 494.39L667.56 494.39L668.17 494.4L668.78 494.4L669.39 494.4L670 494.4" stroke="#00ffff" stroke-width="2.5" fill="none" stroke-linejoin="round"/>
<rect x="55.4" y="28.1" width="9.2" height="9.2" fill="none" stroke="#00ffff" stroke-width="2.5"/>
<rect x="85.9" y="73.12" width="9.2" height="9.2" fill="none" stroke="#00ffff" stroke-width="2.5"/>
<rect x="116.4" y="115.82" width="9.2" height="9.2" fill="none" stroke="#00ffff" stroke-width="2.5"/>
<rect x="146.9" y="156.22" width="9.2" height="9.2" fill="none" stroke="#00ffff" stroke-width="2.5"/>
<rect x="177.4" y="194.31" width="9.2" height="9.2" fill="none" stroke="#00ffff" stroke-width="2.5"/>
<rect x="207.9" y="230.09" width="9.2" height="9.2" fill="none" stroke="#00ffff" stroke-width="2.5"/>
<rect x="238.4" y="263.57" width="9.2" height="9.2" fill="none" stroke="#00ffff" stroke-width="2.5"/>
<rect x="268.9" y="294.73" width="9.2" height="9.2" fill="none" stroke="#00ffff" stroke-width="2.5"/>
<rect x="299.4" y="323.59" width="9.2" height="9.2" fill="none" stroke="#00ffff" stroke-width="2.5"/>
<rect x="329.9" y="350.14" width="9.2" height="9.2" fill="none" stroke="#00ffff" stroke-width="2.5"/>
<rect x="360.4" y="374.37" width="9.2" height="9.2" fill="none" stroke="#00ffff" stroke-width="2.5"/>
<rect x="390.9" y="396.31" width="9.2" height="9.2" fill="none" stroke="#00ffff" stroke-width="2.5"/>
<rect x="421.4" y="415.93" width="9.2" height="9.2" fill="none" stroke="#00ffff" stroke-width="2.5"/>
<rect x="451.9" y="433.24" width="9.2" height="9.2" fill="none" stroke="#00ffff" stroke-width="2.5"/>
<rect x="482.4" y="448.25" width="9.2" height="9.2" fill="none" stroke="#00ffff" stroke-width="2.5"/>
<rect x="512.9" y="460.94" width="9.2" height="9.2" fill="none" stroke="#00ffff" stroke-width="2.5"/>
<rect x="543.4" y="471.33" width="9.2" height="9.2" fill="none" stroke="#00ffff" stroke-width="2.5"/>
<rect x="573.9" y="479.41" width="9.2" height="9.2" fill="none" stroke="#00ffff" stroke-width="2.5"/>
<rect x="604.4" y="485.18" width="9.2" height="9.2" fill="none" stroke="#00ffff" stroke-width="2.5"/>
<rect x="634.9" y="488.65" width="9.2" height="9.2" fill="none" stroke="#00ffff" stroke-width="2.5"/>
<path d="M60 32.7L60.61 39.52L61.22 46.15L61.83 52.58L62.44 58.83L63.05 64.91L63.66 70.82L64.27 76.57L64.88 82.17L65.49 87.62L66.1 92.92L66.71 98.09L67.32 103.13L67.93 108.04L68.54 112.83L69.15 117.5L69.76 122.06L70.37 126.51L70.98 130.86L71.59 135.1L72.2 139.25L72.81 143.3L73.42 147.26L74.03 151.13L74.64 154.91L75.25 158.62L75.86 162.24L76.47 165.79L77.08 169.26L77.69 172.66L78.3 175.99L78.91 179.25L79.52 182.44L80.13 185.57L80.74 188.64L81.35 191.65L81.96 194.59L82.57 197.49L83.18 200.32L83.79 203.11L84.4 205.84L85.01 208.52L85.62 211.15L86.23 213.73L86.84 216.27L87.45 218.76L88.06 221.2L88.67 223.61L89.28 225.97L89.89 228.29L90.5 230.57L91.11 232.81L91.72 235.02L92.33 237.19L92.94 239.32L93.55 241.41L94.16 243.48L94.77 245.51L95.38 247.5L95.99 249.47L96.6 251.4L97.21 253.3L97.82 255.18L98.43 257.02L99.04 258.84L99.65 260.63L100.26 262.39L100.87 264.13L101.48 265.84L102.09 267.52L102.7 269.18L103.31 270.82L103.92 272.43L104.53 274.02L105.14 275.58L105.75 277.13L106.36 278.65L106.97 280.15L107.58 281.64L108.19 283.1L108.8 284.54L109.41 285.96L110.02 287.36L110.63 288.74L111.24 290.11L111.85 291.45L112.46 292.78L113.07 294.1L113.68 295.39L114.29 296.67L114.9 297.93L115.51 299.18L116.12 300.41L116.73 301.62L117.34 302.82L117.95 304.01L118.56 305.18L119.17 306.33L119.78 307.48L120.39 308.61L121 309.72L121.61 310.82L122.22 311.91L122.83 312.99L123.44 314.05L124.05 315.11L124.66 316.15L125.27 317.18L125.88 318.2L126.49 319.2L127.1 320.2L127.71 321.19L128.32 322.16L128.93 323.13L129.54 324.08L130.15 325.02L130.76 325.96L131.37 326.88L131.98 327.8L132.59 328.71L133.2 329.6L133.81 330.49L134.42 331.37L135.03 332.24L135.64 333.1L136.25 333.95L136.86 334.8L137.47 335.63L138.08 336.46L138.69 337.28L139.3 338.09L139.91 338.89L140.52 339.69L141.13 340.48L141.74 341.26L142.35 342.03L142.96 342.8L143.57 343.56L144.18 344.31L144.79 345.05L145.4 345.79L146.01 346.52L146.62 347.24L147.23 347.96L147.84 348.67L148.45 349.38L149.06 350.07L149.67 350.76L150.28 351.45L150.89 352.13L151.5 352.8L152.11 353.47L152.72 354.13L153.33 354.78L153.94 355.43L154.55 356.07L155.16 356.71L155.77 357.34L156.38 357.97L156.99 358.59L157.6 359.2L158.21 359.81L158.82 360.42L159.43 361.02L160.04 361.61L160.65 362.2L161.26 362.78L161.87 363.36L162.48 363.94L163.09 364.5L163.7 365.07L164.31 365.63L164.92 366.18L165.53 366.73L166.14 367.27L166.75 367.81L167.36 368.35L167.97 368.88L168.58 369.41L169.19 369.93L169.8 370.44L170.41 370.96L171.02 371.46L171.63 371.97L172.24 372.47L172.85 372.96L173.46 373.45L174.07 373.94L174.68 374.42L175.29 374.9L175.9 375.38L176.51 375.85L177.12 376.31L177.73 376.77L178.34 377.23L178.95 377.69L179.56 378.14L180.17 378.58L180.78 379.03L181.39 379.46L182 379.9L182.61 380.33L183.22 380.76L183.83 381.18L184.44 381.6L185.05 382.02L185.66 382.44L186.27 382.85L186.88 383.26L187.49 383.67L188.1 384.07L188.71 384.47L189.32 384.87L189.93 385.26L190.54 385.66L191.15 386.05L191.76 386.43L192.37 386.82L192.98 387.2L193.59 387.58L194.2 387.95L194.81 388.32L195.42 388.7L196.03 389.06L196.64 389.43L197.25 389.79L197.86 390.15L198.47 390.51L199.08 390.87L199.69 391.22L200.3 391.57L200.91 391.92L201.52 392.27L202.13 392.61L202.74 392.95L203.35 393.29L203.96 393.63L204.57 393.96L205.18 394.29L205.79 394.63L206.4 394.95L207.01 395.28L207.62 395.6L208.23 395.93L208.84 396.25L209.45 396.56L210.06 396.88L210.67 397.19L211.28 397.51L211.89 397.82L212.5 398.12L213.11 398.43L213.72 398.73L214.33 399.04L214.94 399.34L215.55 399.63L216.16 399.93L216.77 400.23L217.38 400.52L217.99 400.81L218.6 401.1L219.21 401.39L219.82 401.67L220.43 401.96L221.04 402.24L221.65 402.52L222.26 402.8L222.87 403.08L223.48 403.35L224.09 403.63L224.7 403.9L225.31 404.17L225.92 404.44L226.53 404.71L227.14 404.97L227.75 405.24L228.36 405.5L228.97 405.76L229.58 406.02L230.19 406.28L230.8 406.53L231.41 406.79L232.02 407.04L232.63 407.3L233.24 407.55L233.85 407.8L234.46 408.05L235.07 408.29L235.68 408.54L236.29 408.78L236.9 409.02L237.51 409.27L238.12 409.51L238.73 409.74L239.34 409.98L239.95 410.22L240.56 410.45L241.17 410.69L241.78 410.92L242.39 411.15L243 411.38L243.61 411.61L244.22 411.83L244.83 412.06L245.44 412.28L246.05 412.51L246.66 412.73L247.27 412.95L247.88 413.17L248.49 413.39L249.1 413.61L249.71 413.82L250.32 414.04L250.93 414.25L251.54 414.47L252.15 414.68L252.76 414.89L253.37 415.1L253.98 415.31L254.59 415.51L255.2 415.72L255.81 415.93L256.42 416.13L257.03 416.33L257.64 416.54L258.25 416.74L258.86 416.94L259.47 417.14L260.08 417.33L260.69 417.53L261.3 417.73L261.91 417.92L262.52 418.12L263.13 418.31L263.74 418.5L264.35 418.69L264.96 418.88L265.57 419.07L266.18 419.26L266.79 419.45L267.4 419.63L268.01 419.82L268.62 420.01L269.23 420.19L269.84 420.37L270.45 420.55L271.06 420.74L271.67 420.92L272.28 421.1L272.89 421.27L273.5 421.45L274.11 421.63L274.72 421.8L275.33 421.98L275.94 422.15L276.55 422.33L277.16 422.5L277.77 422.67L278.38 422.84L278.99 423.01L279.6 423.18L280.21 423.35L280.82 423.52L281.43 423.69L282.04 423.85L282.65 424.02L283.26 424.18L283.87 424.35L284.48 424.51L285.09 424.67L285.7 424.83L286.31 425L286.92 425.16L287.53 425.32L288.14 425.47L288.75 425.63L289.36 425.79L289.97 425.95L290.58 426.1L291.19 426.26L291.8 426.41L292.41 426.57L293.02 426.72L293.63 426.87L294.24 427.02L294.85 427.18L295.46 427.33L296.07 427.48L296.68 427.63L297.29 427.77L297.9 427.92L298.51 428.07L299.12 428.22L299.73 428.36L300.34 428.51L300.95 428.65L301.56 428.8L302.17 428.94L302.78 429.08L303.39 429.22L304 429.37L304.61 429.51L305.22 429.65L305.83 429.79L306.44 429.93L307.05 430.07L307.66 430.2L308.27 430.34L308.88 430.48L309.49 430.61L310.1 430.75L310.71 430.89L311.32 431.02L311.93 431.15L312.54 431.29L313.15 431.42L313.76 431.55L314.37 431.68L314.98 431.82L315.59 431.95L316.2 432.08L316.81 432.21L317.42 432.34L318.03 432.46L318.64 432.59L319.25 432.72L319.86 432.85L320.47 432.97L321.08 433.1L321.69 433.23L322.3 433.35L322.91 433.47L323.52 433.6L324.13 433.72L324.74 433.85L325.35 433.97L325.96 434.09L326.57 434.21L327.18 434.33L327.79 434.45L328.4 434.57L329.01 434.69L329.62 434.81L330.23 434.93L330.84 435.05L331.45 435.17L332.06 435.28L332.67 435.4L333.28 435.52L333.89 435.63L334.5 435.75L335.11 435.86L335.72 435.98L336.33 436.09L336.94 436.2L337.55 436.32L338.16 436.43L338.77 436.54L339.38 436.65L339.99 436.76L340.6 436.87L341.21 436.98L341.82 437.09L342.43 437.2L343.04 437.31L343.65 437.42L344.26 437.53L344.87 437.63L345.48 437.74L346.09 437.85L346.7 437.95L347.31 438.06L347.92 438.17L348.53 438.27L349.14 438.38L349.75 438.48L350.36 438.58L350.97 438.69L351.58 438.79L352.19 438.89L352.8 439L353.41 439.1L354.02 439.2L354.63 439.3L355.24 439.4L355.85 439.5L356.46 439.6L357.07 439.7L357.68 439.8L358.29 439.9L358.9 440L359.51 440.1L360.12 440.2L360.73 440.29L361.34 440.39L361.95 440.49L362.56 440.59L363.17 440.68L363.78 440.78L364.39 440.87L365 440.97L365.61 441.06L366.22 441.16L366.83 441.25L367.44 441.35L368.05 441.44L368.66 441.53L369.27 441.63L369.88 441.72L370.49 441.81L371.1 441.9L371.71 442L372.32 442.09L372.93 442.18L373.54 442.27L374.15 442.36L374.76 442.45L375.37 442.54L375.98 442.63L376.59 442.72L377.2 442.81L377.81 442.89L378.42 442.98L379.03 443.07L379.64 443.16L380.25 443.25L380.86 443.33L381.47 443.42L382.08 443.51L382.69 443.59L383.3 443.68L383.91 443.76L384.52 443.85L385.13 443.93L385.74 444.02L386.35 444.1L386.96 444.19L387.57 444.27L388.18 444.35L388.79 444.44L389.4 444.52L390.01 444.6L390.62 444.69L391.23 444.77L391.84 444.85L392.45 444.93L393.06 445.01L393.67 445.09L394.28 445.18L394.89 445.26L395.5 445.34L396.11 445.42L396.72 445.5L397.33 445.58L397.94 445.65L398.55 445.73L399.16 445.81L399.77 445.89L400.38 445.97L400.99 446.05L401.6 446.13L402.21 446.2L402.82 446.28L403.43 446.36L404.04 446.43L404.65 446.51L405.26 446.59L405.87 446.66L406.48 446.74L407.09 446.81L407.7 446.89L408.31 446.96L408.92 447.04L409.53 447.11L410.14 447.19L410.75 447.26L411.36 447.34L411.97 447.41L412.58 447.48L413.19 447.56L413.8 447.63L414.41 447.7L415.02 447.77L415.63 447.85L416.24 447.92L416.85 447.99L417.46 448.06L418.07 448.13L418.68 448.21L419.29 448.28L419.9 448.35L420.51 448.42L421.12 448.49L421.73 448.56L422.34 448.63L422.95 448.7L423.56 448.77L424.17 448.84L424.78 448.91L425.39 448.97L426 449.04L426.61 449.11L427.22 449.18L427.83 449.25L428.44 449.32L429.05 449.38L429.66 449.45L430.27 449.52L430.88 449.58L431.49 449.65L432.1 449.72L432.71 449.78L433.32 449.85L433.93 449.92L434.54 449.98L435.15 450.05L435.76 450.11L436.37 450.18L436.98 450.24L437.59 450.31L438.2 450.37L438.81 450.44L439.42 450.5L440.03 450.57L440.64 450.63L441.25 450.69L441.86 450.76L442.47 450.82L443.08 450.88L443.69 450.95L444.3 451.01L444.91 451.07L445.52 451.13L446.13 451.2L446.74 451.26L447.35 451.32L447.96 451.38L448.57 451.44L449.18 451.5L449.79 451.57L450.4 451.63L451.01 451.69L451.62 451.75L452.23 451.81L452.84 451.87L453.45 451.93L454.06 451.99L454.67 452.05L455.28 452.11L455.89 452.17L456.5 452.23L457.11 452.29L457.72 452.34L458.33 452.4L458.94 452.46L459.55 452.52L460.16 452.58L460.77 452.64L461.38 452.7L461.99 452.75L462.6 452.81L463.21 452.87L463.82 452.93L464.43 452.98L465.04 453.04L465.65 453.1L466.26 453.15L466.87 453.21L467.48 453.27L468.09 453.32L468.7 453.38L469.31 453.43L469.92 453.49L470.53 453.55L471.14 453.6L471.75 453.66L472.36 453.71L472.97 453.77L473.58 453.82L474.19 453.88L474.8 453.93L475.41 453.98L476.02 454.04L476.63 454.09L477.24 454.15L477.85 454.2L478.46 454.25L479.07 454.31L479.68 454.36L480.29 454.41L480.9 454.47L481.51 454.52L482.12 454.57L482.73 454.63L483.34 454.68L483.95 454.73L484.56 454.78L485.17 454.84L485.78 454.89L486.39 454.94L487 454.99L487.61 455.04L488.22 455.09L488.83 455.15L489.44 455.2L490.05 455.25L490.66 455.3L491.27 455.35L491.88 455.4L492.49 455.45L493.1 455.5L493.71 455.55L494.32 455.6L494.93 455.65L495.54 455.7L496.15 455.75L496.76 455.8L497.37 455.85L497.98 455.9L498.59 455.95L499.2 456L499.81 456.05L500.42 456.09L501.03 456.14L501.64 456.19L502.25 456.24L502.86 456.29L503.47 456.34L504.08 456.38L504.69 456.43L505.3 456.48L505.91 456.53L506.52 456.58L507.13 456.62L507.74 456.67L508.35 456.72L508.96 456.76L509.57 456.81L510.18 456.86L510.79 456.91L511.4 456.95L512.01 457L512.62 457.05L513.23 457.09L513.84 457.14L514.45 457.18L515.06 457.23L515.67 457.28L516.28 457.32L516.89 457.37L517.5 457.41L518.11 457.46L518.72 457.5L519.33 457.55L519.94 457.59L520.55 457.64L521.16 457.68L521.77 457.73L522.38 457.77L522.99 457.82L523.6 457.86L524.21 457.9L524.82 457.95L525.43 457.99L526.04 458.04L526.65 458.08L527.26 458.12L527.87 458.17L528.48 458.21L529.09 458.25L529.7 458.3L530.31 458.34L530.92 458.38L531.53 458.43L532.14 458.47L532.75 458.51L533.36 458.56L533.97 458.6L534.58 458.64L535.19 458.68L535.8 458.73L536.41 458.77L537.02 458.81L537.63 458.85L538.24 458.89L538.85 458.94L539.46 458.98L540.07 459.02L540.68 459.06L541.29 459.1L541.9 459.14L542.51 459.18L543.12 459.22L543.73 459.27L544.34 459.31L544.95 459.35L545.56 459.39L546.17 459.43L546.78 459.47L547.39 459.51L548 459.55L548.61 459.59L549.22 459.63L549.83 459.67L550.44 459.71L551.05 459.75L551.66 459.79L552.27 459.83L552.88 459.87L553.49 459.91L554.1 459.95L554.71 459.99L555.32 460.03L555.93 460.06L556.54 460.1L557.15 460.14L557.76 460.18L558.37 460.22L558.98 460.26L559.59 460.3L560.2 460.34L560.81 460.37L561.42 460.41L562.03 460.45L562.64 460.49L563.25 460.53L563.86 460.56L564.47 460.6L565.08 460.64L565.69 460.68L566.3 460.72L566.91 460.75L567.52 460.79L568.13 460.83L568.74 460.87L569.35 460.9L569.96 460.94L570.57 460.98L571.18 461.01L571.79 461.05L572.4 461.09L573.01 461.12L573.62 461.16L574.23 461.2L574.84 461.23L575.45 461.27L576.06 461.31L576.67 461.34L577.28 461.38L577.89 461.41L578.5 461.45L579.11 461.49L579.72 461.52L580.33 461.56L580.94 461.59L581.55 461.63L582.16 461.66L582.77 461.7L583.38 461.73L583.99 461.77L584.6 461.8L585.21 461.84L585.82 461.87L586.43 461.91L587.04 461.94L587.65 461.98L588.26 462.01L588.87 462.05L589.48 462.08L590.09 462.12L590.7 462.15L591.31 462.19L591.92 462.22L592.53 462.25L593.14 462.29L593.75 462.32L594.36 462.36L594.97 462.39L595.58 462.42L596.19 462.46L596.8 462.49L597.41 462.53L598.02 462.56L598.63 462.59L599.24 462.63L599.85 462.66L600.46 462.69L601.07 462.73L601.68 462.76L602.29 462.79L602.9 462.82L603.51 462.86L604.12 462.89L604.73 462.92L605.34 462.96L605.95 462.99L606.56 463.02L607.17 463.05L607.78 463.09L608.39 463.12L609 463.15L609.61 463.18L610.22 463.21L610.83 463.25L611.44 463.28L612.05 463.31L612.66 463.34L613.27 463.37L613.88 463.41L614.49 463.44L615.1 463.47L615.71 463.5L616.32 463.53L616.93 463.56L617.54 463.59L618.15 463.63L618.76 463.66L619.37 463.69L619.98 463.72L620.59 463.75L621.2 463.78L621.81 463.81L622.42 463.84L623.03 463.87L623.64 463.9L624.25 463.93L624.86 463.96L625.47 463.99L626.08 464.03L626.69 464.06L627.3 464.09L627.91 464.12L628.52 464.15L629.13 464.18L629.74 464.21L630.35 464.24L630.96 464.27L631.57 464.3L632.18 464.33L632.79 464.36L633.4 464.39L634.01 464.41L634.62 464.44L635.23 464.47L635.84 464.5L636.45 464.53L637.06 464.56L637.67 464.59L638.28 464.62L638.89 464.65L639.5 464.68L640.11 464.71L640.72 464.74L641.33 464.77L641.94 464.8L642.55 464.83L643.16 464.86L643.77 464.89L644.38 464.92L644.99 464.94L645.6 464.97L646.21 465L646.82 465.03L647.43 465.06L648.04 465.09L648.65 465.12L649.26 465.15L649.87 465.18L650.48 465.21L651.09 465.23L651.7 465.26L652.31 465.29L652.92 465.32L653.53 465.35L654.14 465.38L654.75 465.41L655.36 465.43L655.97 465.46L656.58 465.49L657.19 465.52L657.8 465.55L658.41 465.57L659.02 465.6L659.63 465.63L660.24 465.66L660.85 465.69L661.46 465.71L662.07 465.74L662.68 465.77L663.29 465.8L663.9 465.82L664.51 465.85L665.12 465.88L665.73 465.91L666.34 465.93L666.95 465.96L667.56 465.99L668.17 466.02L668.78 466.04L669.39 466.07L670 466.1" stroke="#ff00ff" stroke-width="2.5" fill="none" stroke-linejoin="round"/>
<circle cx="60" cy="32.7" r="5.75" fill="none" stroke="#ff00ff" stroke-width="2.5"/>
<circle cx="90.5" cy="230.57" r="5.75" fill="none" stroke="#ff00ff" stroke-width="2.5"/>
<circle cx="121" cy="309.72" r="5.75" fill="none" stroke="#ff00ff" stroke-width="2.5"/>
<circle cx="151.5" cy="352.8" r="5.75" fill="none" stroke="#ff00ff" stroke-width="2.5"/>
<circle cx="182" cy="379.9" r="5.75" fill="none" stroke="#ff00ff" stroke-width="2.5"/>
<circle cx="212.5" cy="398.12" r="5.75" fill="none" stroke="#ff00ff" stroke-width="2.5"/>
<circle cx="243" cy="411.38" r="5.75" fill="none" stroke="#ff00ff" stroke-width="2.5"/>
<circle cx="273.5" cy="421.45" r="5.75" fill="none" stroke="#ff00ff" stroke-width="2.5"/>
<circle cx="304" cy="429.37" r="5.75" fill="none" stroke="#ff00ff" stroke-width="2.5"/>
<circle cx="334.5" cy="435.75" r="5.75" fill="none" stroke="#ff00ff" stroke-width="2.5"/>
<circle cx="365" cy="440.97" r="5.75" fill="none" stroke="#ff00ff" stroke-width="2.5"/>
<circle cx="395.5" cy="445.34" r="5.75" fill="none" stroke="#ff00ff" stroke-width="2.5"/>
<circle cx="426" cy="449.04" r="5.75" fill="none" stroke="#ff00ff" stroke-width="2.5"/>
<circle cx="456.5" cy="452.23" r="5.75" fill="none" stroke="#ff00ff" stroke-width="2.5"/>
<circle cx="487" cy="454.99" r="5.75" fill="none" stroke="#ff00ff" stroke-width="2.5"/>
<circle cx="517.5" cy="457.41" r="5.75" fill="none" stroke="#ff00ff" stroke-width="2.5"/>
<circle cx="548" cy="459.55" r="5.75" fill="none" stroke="#ff00ff" stroke-width="2.5"/>
<circle cx="578.5" cy="461.45" r="5.75" fill="none" stroke="#ff00ff" stroke-width="2.5"/>
<circle cx="609" cy="463.15" r="5.75" fill="none" stroke="#ff00ff" stroke-width="2.5"/>
<circle cx="639.5" cy="464.68" r="5.75" fill="none" stroke="#ff00ff" stroke-width="2.5"/>
<path d="M60 494.38L60.61 494.38L61.22 494.38L61.83 494.38L62.44 494.38L63.05 494.38L63.66 494.38L64.27 494.38L64.88 494.38L65.49 494.38L66.1 494.38L66.71 494.38L67.32 494.38L67.93 494.38L68.54 494.38L69.15 494.38L69.76 494.38L70.37 494.38L70.98 494.37L71.59 494.37L72.2 494.37L72.81 494.37L73.42 494.37L74.03 494.37L74.64 494.37L75.25 494.37L75.86 494.37L76.47 494.37L77.08 494.37L77.69 494.37L78.3 494.37L78.91 494.37L79.52 494.37L80.13 494.37L80.74 494.37L81.35 494.37L81.96 494.37L82.57 494.37L83.18 494.37L83.79 494.37L84.4 494.37L85.01 494.37L85.62 494.37L86.23 494.37L86.84 494.37L87.45 494.37L88.06 494.37L88.67 494.37L89.28 494.37L89.89 494.37L90.5 494.37L91.11 494.37L91.72 494.36L92.33 494.36L92.94 494.36L93.55 494.36L94.16 494.36L94.77 494.36L95.38 494.36L95.99 494.36L96.6 494.36L97.21 494.36L97.82 494.36L98.43 494.36L99.04 494.36L99.65 494.36L100.26 494.36L100.87 494.36L101.48 494.36L102.09 494.36L102.7 494.36L103.31 494.36L103.92 494.36L104.53 494.36L105.14 494.36L105.75 494.36L106.36 494.36L106.97 494.35L107.58 494.35L108.19 494.35L108.8 494.35L109.41 494.35L110.02 494.35L110.63 494.35L111.24 494.35L111.85 494.35L112.46 494.35L113.07 494.35L113.68 494.35L114.29 494.35L114.9 494.35L115.51 494.35L116.12 494.35L116.73 494.35L117.34 494.35L117.95 494.35L118.56 494.35L119.17 494.34L119.78 494.34L120.39 494.34L121 494.34L121.61 494.34L122.22 494.34L122.83 494.34L123.44 494.34L124.05 494.34L124.66 494.34L125.27 494.34L125.88 494.34L126.49 494.34L127.1 494.34L127.71 494.34L128.32 494.34L128.93 494.34L129.54 494.33L130.15 494.33L130.76 494.33L131.37 494.33L131.98 494.33L132.59 494.33L133.2 494.33L133.81 494.33L134.42 494.33L135.03 494.33L135.64 494.33L136.25 494.33L136.86 494.33L137.47 494.33L138.08 494.32L138.69 494.32L139.3 494.32L139.91 494.32L140.52 494.32L141.13 494.32L141.74 494.32L142.35 494.32L142.96 494.32L143.57 494.32L144.18 494.32L144.79 494.32L145.4 494.31L146.01 494.31L146.62 494.31L147.23 494.31L147.84 494.31L148.45 494.31L149.06 494.31L149.67 494.31L150.28 494.31L150.89 494.31L151.5 494.31L152.11 494.31L152.72 494.3L153.33 494.3L153.94 494.3L154.55 494.3L155.16 494.3L155.77 494.3L156.38 494.3L156.99 494.3L157.6 494.3L158.21 494.3L158.82 494.29L159.43 494.29L160.04 494.29L160.65 494.29L161.26 494.29L161.87 494.29L162.48 494.29L163.09 494.29L163.7 494.29L164.31 494.28L164.92 494.28L165.53 494.28L166.14 494.28L166.75 494.28L167.36 494.28L167.97 494.28L168.58 494.28L169.19 494.27L169.8 494.27L170.41 494.27L171.02 494.27L171.63 494.27L172.24 494.27L172.85 494.27L173.46 494.27L174.07 494.26L174.68 494.26L175.29 494.26L175.9 494.26L176.51 494.26L177.12 494.26L177.73 494.26L178.34 494.25L178.95 494.25L179.56 494.25L180.17 494.25L180.78 494.25L181.39 494.25L182 494.25L182.61 494.24L183.22 494.24L183.83 494.24L184.44 494.24L185.05 494.24L185.66 494.24L186.27 494.23L186.88 494.23L187.49 494.23L188.1 494.23L188.71 494.23L189.32 494.23L189.93 494.22L190.54 494.22L191.15 494.22L191.76 494.22L192.37 494.22L192.98 494.21L193.59 494.21L194.2 494.21L194.81 494.21L195.42 494.21L196.03 494.21L196.64 494.2L197.25 494.2L197.86 494.2L198.47 494.2L199.08 494.2L199.69 494.19L200.3 494.19L200.91 494.19L201.52 494.19L202.13 494.18L202.74 494.18L203.35 494.18L203.96 494.18L204.57 494.18L205.18 494.17L205.79 494.17L206.4 494.17L207.01 494.17L207.62 494.16L208.23 494.16L208.84 494.16L209.45 494.16L210.06 494.15L210.67 494.15L211.28 494.15L211.89 494.15L212.5 494.14L213.11 494.14L213.72 494.14L214.33 494.14L214.94 494.13L215.55 494.13L216.16 494.13L216.77 494.13L217.38 494.12L217.99 494.12L218.6 494.12L219.21 494.11L219.82 494.11L220.43 494.11L221.04 494.11L221.65 494.1L222.26 494.1L222.87 494.1L223.48 494.09L224.09 494.09L224.7 494.09L225.31 494.08L225.92 494.08L226.53 494.08L227.14 494.08L227.75 494.07L228.36 494.07L228.97 494.07L229.58 494.06L230.19 494.06L230.8 494.06L231.41 494.05L232.02 494.05L232.63 494.04L233.24 494.04L233.85 494.04L234.46 494.03L235.07 494.03L235.68 494.03L236.29 494.02L236.9 494.02L237.51 494.02L238.12 494.01L238.73 494.01L239.34 494L239.95 494L240.56 494L241.17 493.99L241.78 493.99L242.39 493.98L243 493.98L243.61 493.97L244.22 493.97L244.83 493.97L245.44 493.96L246.05 493.96L246.66 493.95L247.27 493.95L247.88 493.94L248.49 493.94L249.1 493.93L249.71 493.93L250.32 493.93L250.93 493.92L251.54 493.92L252.15 493.91L252.76 493.91L253.37 493.9L253.98 493.9L254.59 493.89L255.2 493.89L255.81 493.88L256.42 493.88L257.03 493.87L257.64 493.86L258.25 493.86L258.86 493.85L259.47 493.85L260.08 493.84L260.69 493.84L261.3 493.83L261.91 493.83L262.52 493.82L263.13 493.81L263.74 493.81L264.35 493.8L264.96 493.8L265.57 493.79L266.18 493.78L266.79 493.78L267.4 493.77L268.01 493.77L268.62 493.76L269.23 493.75L269.84 493.75L270.45 493.74L271.06 493.73L271.67 493.73L272.28 493.72L272.89 493.71L273.5 493.71L274.11 493.7L274.72 493.69L275.33 493.68L275.94 493.68L276.55 493.67L277.16 493.66L277.77 493.66L278.38 493.65L278.99 493.64L279.6 493.63L280.21 493.63L280.82 493.62L281.43 493.61L282.04 493.6L282.65 493.59L283.26 493.59L283.87 493.58L284.48 493.57L285.09 493.56L285.7 493.55L286.31 493.54L286.92 493.54L287.53 493.53L288.14 493.52L288.75 493.51L289.36 493.5L289.97 493.49L290.58 493.48L291.19 493.47L291.8 493.46L292.41 493.45L293.02 493.44L293.63 493.43L294.24 493.42L294.85 493.41L295.46 493.41L296.07 493.4L296.68 493.38L297.29 493.37L297.9 493.36L298.51 493.35L299.12 493.34L299.73 493.33L300.34 493.32L300.95 493.31L301.56 493.3L302.17 493.29L302.78 493.28L303.39 493.27L304 493.26L304.61 493.24L305.22 493.23L305.83 493.22L306.44 493.21L307.05 493.2L307.66 493.18L308.27 493.17L308.88 493.16L309.49 493.15L310.1 493.14L310.71 493.12L311.32 493.11L311.93 493.1L312.54 493.08L313.15 493.07L313.76 493.06L314.37 493.04L314.98 493.03L315.59 493.02L316.2 493L316.81 492.99L317.42 492.97L318.03 492.96L318.64 492.95L319.25 492.93L319.86 492.92L320.47 492.9L321.08 492.89L321.69 492.87L322.3 492.86L322.91 492.84L323.52 492.82L324.13 492.81L324.74 492.79L325.35 492.78L325.96 492.76L326.57 492.74L327.18 492.73L327.79 492.71L328.4 492.69L329.01 492.68L329.62 492.66L330.23 492.64L330.84 492.62L331.45 492.61L332.06 492.59L332.67 492.57L333.28 492.55L333.89 492.53L334.5 492.51L335.11 492.49L335.72 492.48L336.33 492.46L336.94 492.44L337.55 492.42L338.16 492.4L338.77 492.38L339.38 492.36L339.99 492.34L340.6 492.31L341.21 492.29L341.82 492.27L342.43 492.25L343.04 492.23L343.65 492.21L344.26 492.19L344.87 492.16L345.48 492.14L346.09 492.12L346.7 492.1L347.31 492.07L347.92 492.05L348.53 492.03L349.14 492L349.75 491.98L350.36 491.95L350.97 491.93L351.58 491.9L352.19 491.88L352.8 491.85L353.41 491.83L354.02 491.8L354.63 491.78L355.24 491.75L355.85 491.72L356.46 491.7L357.07 491.67L357.68 491.64L358.29 491.61L358.9 491.59L359.51 491.56L360.12 491.53L360.73 491.5L361.34 491.47L361.95 491.44L362.56 491.41L363.17 491.38L363.78 491.35L364.39 491.32L365 491.29L365.61 491.26L366.22 491.23L366.83 491.19L367.44 491.16L368.05 491.13L368.66 491.1L369.27 491.06L369.88 491.03L370.49 491L371.1 490.96L371.71 490.93L372.32 490.89L372.93 490.86L373.54 490.82L374.15 490.79L374.76 490.75L375.37 490.71L375.98 490.68L376.59 490.64L377.2 490.6L377.81 490.56L378.42 490.52L379.03 490.48L379.64 490.45L380.25 490.41L380.86 490.37L381.47 490.32L382.08 490.28L382.69 490.24L383.3 490.2L383.91 490.16L384.52 490.12L385.13 490.07L385.74 490.03L386.35 489.99L386.96 489.94L387.57 489.9L388.18 489.85L388.79 489.81L389.4 489.76L390.01 489.71L390.62 489.67L391.23 489.62L391.84 489.57L392.45 489.52L393.06 489.47L393.67 489.42L394.28 489.37L394.89 489.32L395.5 489.27L396.11 489.22L396.72 489.17L397.33 489.11L397.94 489.06L398.55 489.01L399.16 488.95L399.77 488.9L400.38 488.84L400.99 488.79L401.6 488.73L402.21 488.67L402.82 488.62L403.43 488.56L404.04 488.5L404.65 488.44L405.26 488.38L405.87 488.32L406.48 488.26L407.09 488.2L407.7 488.14L408.31 488.07L408.92 488.01L409.53 487.94L410.14 487.88L410.75 487.81L411.36 487.75L411.97 487.68L412.58 487.61L413.19 487.55L413.8 487.48L414.41 487.41L415.02 487.34L415.63 487.27L416.24 487.19L416.85 487.12L417.46 487.05L418.07 486.97L418.68 486.9L419.29 486.82L419.9 486.75L420.51 486.67L421.12 486.59L421.73 486.52L422.34 486.44L422.95 486.36L423.56 486.28L424.17 486.19L424.78 486.11L425.39 486.03L426 485.94L426.61 485.86L427.22 485.77L427.83 485.69L428.44 485.6L429.05 485.51L429.66 485.42L430.27 485.33L430.88 485.24L431.49 485.15L432.1 485.05L432.71 484.96L433.32 484.87L433.93 484.77L434.54 484.67L435.15 484.58L435.76 484.48L436.37 484.38L436.98 484.28L437.59 484.17L438.2 484.07L438.81 483.97L439.42 483.86L440.03 483.76L440.64 483.65L441.25 483.54L441.86 483.43L442.47 483.32L443.08 483.21L443.69 483.1L444.3 482.99L444.91 482.87L445.52 482.75L446.13 482.64L446.74 482.52L447.35 482.4L447.96 482.28L448.57 482.16L449.18 482.03L449.79 481.91L450.4 481.78L451.01 481.66L451.62 481.53L452.23 481.4L452.84 481.27L453.45 481.14L454.06 481L454.67 480.87L455.28 480.73L455.89 480.6L456.5 480.46L457.11 480.32L457.72 480.18L458.33 480.03L458.94 479.89L459.55 479.74L460.16 479.6L460.77 479.45L461.38 479.3L461.99 479.14L462.6 478.99L463.21 478.84L463.82 478.68L464.43 478.52L465.04 478.36L465.65 478.2L466.26 478.04L466.87 477.87L467.48 477.71L468.09 477.54L468.7 477.37L469.31 477.2L469.92 477.03L470.53 476.85L471.14 476.68L471.75 476.5L472.36 476.32L472.97 476.14L473.58 475.95L474.19 475.77L474.8 475.58L475.41 475.39L476.02 475.2L476.63 475.01L477.24 474.81L477.85 474.62L478.46 474.42L479.07 474.22L479.68 474.01L480.29 473.81L480.9 473.6L481.51 473.39L482.12 473.18L482.73 472.97L483.34 472.75L483.95 472.53L484.56 472.31L485.17 472.09L485.78 471.87L486.39 471.64L487 471.41L487.61 471.18L488.22 470.95L488.83 470.71L489.44 470.48L490.05 470.23L490.66 469.99L491.27 469.75L491.88 469.5L492.49 469.25L493.1 469L493.71 468.74L494.32 468.48L494.93 468.22L495.54 467.96L496.15 467.69L496.76 467.42L497.37 467.15L497.98 466.88L498.59 466.6L499.2 466.32L499.81 466.04L500.42 465.76L501.03 465.47L501.64 465.18L502.25 464.88L502.86 464.59L503.47 464.29L504.08 463.99L504.69 463.68L505.3 463.37L505.91 463.06L506.52 462.74L507.13 462.43L507.74 462.1L508.35 461.78L508.96 461.45L509.57 461.12L510.18 460.79L510.79 460.45L511.4 460.11L512.01 459.76L512.62 459.42L513.23 459.06L513.84 458.71L514.45 458.35L515.06 457.99L515.67 457.62L516.28 457.25L516.89 456.88L517.5 456.5L518.11 456.12L518.72 455.74L519.33 455.35L519.94 454.95L520.55 454.56L521.16 454.16L521.77 453.75L522.38 453.34L522.99 452.93L523.6 452.52L524.21 452.09L524.82 451.67L525.43 451.24L526.04 450.81L526.65 450.37L527.26 449.93L527.87 449.48L528.48 449.03L529.09 448.57L529.7 448.11L530.31 447.65L530.92 447.18L531.53 446.7L532.14 446.22L532.75 445.74L533.36 445.25L533.97 444.75L534.58 444.26L535.19 443.75L535.8 443.24L536.41 442.73L537.02 442.21L537.63 441.68L538.24 441.15L538.85 440.62L539.46 440.08L540.07 439.53L540.68 438.98L541.29 438.42L541.9 437.86L542.51 437.29L543.12 436.72L543.73 436.14L544.34 435.55L544.95 434.96L545.56 434.37L546.17 433.76L546.78 433.15L547.39 432.54L548 431.92L548.61 431.29L549.22 430.65L549.83 430.01L550.44 429.37L551.05 428.71L551.66 428.05L552.27 427.39L552.88 426.71L553.49 426.03L554.1 425.34L554.71 424.65L555.32 423.95L555.93 423.24L556.54 422.53L557.15 421.8L557.76 421.07L558.37 420.34L558.98 419.59L559.59 418.84L560.2 418.08L560.81 417.31L561.42 416.54L562.03 415.76L562.64 414.97L563.25 414.17L563.86 413.36L564.47 412.55L565.08 411.73L565.69 410.89L566.3 410.06L566.91 409.21L567.52 408.35L568.13 407.49L568.74 406.61L569.35 405.73L569.96 404.84L570.57 403.94L571.18 403.03L571.79 402.11L572.4 401.18L573.01 400.25L573.62 399.3L574.23 398.35L574.84 397.38L575.45 396.41L576.06 395.42L576.67 394.43L577.28 393.42L577.89 392.41L578.5 391.38L579.11 390.35L579.72 389.3L580.33 388.24L580.94 387.18L581.55 386.1L582.16 385.01L582.77 383.91L583.38 382.8L583.99 381.68L584.6 380.55L585.21 379.4L585.82 378.25L586.43 377.08L587.04 375.9L587.65 374.71L588.26 373.51L588.87 372.29L589.48 371.06L590.09 369.82L590.7 368.57L591.31 367.31L591.92 366.03L592.53 364.74L593.14 363.44L593.75 362.12L594.36 360.79L594.97 359.45L595.58 358.09L596.19 356.72L596.8 355.34L597.41 353.94L598.02 352.53L598.63 351.1L599.24 349.66L599.85 348.21L600.46 346.74L601.07 345.26L601.68 343.76L602.29 342.24L602.9 340.71L603.51 339.17L604.12 337.61L604.73 336.03L605.34 334.44L605.95 332.83L606.56 331.21L607.17 329.57L607.78 327.91L608.39 326.24L609 324.55L609.61 322.84L610.22 321.12L610.83 319.38L611.44 317.62L612.05 315.84L612.66 314.05L613.27 312.23L613.88 310.4L614.49 308.55L615.1 306.69L615.71 304.8L616.32 302.89L616.93 300.97L617.54 299.03L618.15 297.06L618.76 295.08L619.37 293.08L619.98 291.05L620.59 289.01L621.2 286.94L621.81 284.86L622.42 282.75L623.03 280.63L623.64 278.48L624.25 276.31L624.86 274.12L625.47 271.9L626.08 269.67L626.69 267.41L627.3 265.13L627.91 262.82L628.52 260.49L629.13 258.14L629.74 255.77L630.35 253.37L630.96 250.95L631.57 248.5L632.18 246.03L632.79 243.53L633.4 241.01L634.01 238.47L634.62 235.89L635.23 233.3L635.84 230.67L636.45 228.02L637.06 225.35L637.67 222.64L638.28 219.91L638.89 217.15L639.5 214.36L640.11 211.55L640.72 208.71L641.33 205.84L641.94 202.94L642.55 200.01L643.16 197.05L643.77 194.06L644.38 191.04L644.99 187.99L645.6 184.91L646.21 181.8L646.82 178.66L647.43 175.49L648.04 172.28L648.65 169.05L649.26 165.78L649.87 162.47L650.48 159.14L651.09 155.77L651.7 152.36L652.31 148.93L652.92 145.45L653.53 141.95L654.14 138.41L654.75 134.83L655.36 131.21L655.97 127.56L656.58 123.88L657.19 120.15L657.8 116.39L658.41 112.59L659.02 108.76L659.63 104.88L660.24 100.97L660.85 97.01L661.46 93.02L662.07 88.98L662.68 84.91L663.29 80.79L663.9 76.64L664.51 72.44L665.12 68.2L665.73 63.91L666.34 59.59L666.95 55.22L667.56 50.8L668.17 46.35L668.78 41.84L669.39 37.29L670 32.7" stroke="#1e90ff" stroke-width="2.5" fill="none" stroke-linejoin="round"/>
<path d="M60 487.53L66.41 498.63L53.59 498.63Z" fill="none" stroke="#1e90ff" stroke-width="2.5"/>
<path d="M90.5 487.52L96.91 498.62L84.09 498.62Z" fill="none" stroke="#1e90ff" stroke-width="2.5"/>
<path d="M121 487.49L127.41 498.59L114.59 498.59Z" fill="none" stroke="#1e90ff" stroke-width="2.5"/>
<path d="M151.5 487.46L157.91 498.56L145.09 498.56Z" fill="none" stroke="#1e90ff" stroke-width="2.5"/>
<path d="M182 487.4L188.41 498.5L175.59 498.5Z" fill="none" stroke="#1e90ff" stroke-width="2.5"/>
<path d="M212.5 487.29L218.91 498.39L206.09 498.39Z" fill="none" stroke="#1e90ff" stroke-width="2.5"/>
<path d="M243 487.13L249.41 498.23L236.59 498.23Z" fill="none" stroke="#1e90ff" stroke-width="2.5"/>
<path d="M273.5 486.86L279.91 497.96L267.09 497.96Z" fill="none" stroke="#1e90ff" stroke-width="2.5"/>
<path d="M304 486.41L310.41 497.51L297.59 497.51Z" fill="none" stroke="#1e90ff" stroke-width="2.5"/>
<path d="M334.5 485.66L340.91 496.76L328.09 496.76Z" fill="none" stroke="#1e90ff" stroke-width="2.5"/>
<path d="M365 484.44L371.41 495.54L358.59 495.54Z" fill="none" stroke="#1e90ff" stroke-width="2.5"/>
<path d="M395.5 482.42L401.91 493.52L389.09 493.52Z" fill="none" stroke="#1e90ff" stroke-width="2.5"/>
<path d="M426 479.09L432.41 490.19L419.59 490.19Z" fill="none" stroke="#1e90ff" stroke-width="2.5"/>
<path d="M456.5 473.61L462.91 484.71L450.09 484.71Z" fill="none" stroke="#1e90ff" stroke-width="2.5"/>
<path d="M487 464.56L493.41 475.66L480.59 475.66Z" fill="none" stroke="#1e90ff" stroke-width="2.5"/>
<path d="M517.5 449.65L523.91 460.75L511.09 460.75Z" fill="none" stroke="#1e90ff" stroke-width="2.5"/>
<path d="M548 425.07L554.41 436.17L541.59 436.17Z" fill="none" stroke="#1e90ff" stroke-width="2.5"/>
<path d="M578.5 384.53L584.91 395.63L572.09 395.63Z" fill="none" stroke="#1e90ff" stroke-width="2.5"/>
<path d="M609 317.7L615.41 328.8L602.59 328.8Z" fill="none" stroke="#1e90ff" stroke-width="2.5"/>
<path d="M639.5 207.51L645.91 218.61L633.09 218.61Z" fill="none" stroke="#1e90ff" stroke-width="2.5"/>
<path d="M60 34.58L60.61 34.78L61.22 35L61.83 35.25L62.44 35.53L63.05 35.83L63.66 36.16L64.27 36.53L64.88 36.94L65.49 37.4L66.1 37.9L66.71 38.45L67.32 39.07L67.93 39.74L68.54 40.49L69.15 41.32L69.76 42.23L70.37 43.23L70.98 44.34L71.59 45.56L72.2 46.91L72.81 48.39L73.42 50.02L74.03 51.81L74.64 53.78L75.25 55.94L75.86 58.31L76.47 60.9L77.08 63.74L77.69 66.84L78.3 70.23L78.91 73.92L79.52 77.93L80.13 82.29L80.74 87.01L81.35 92.12L81.96 97.63L82.57 103.57L83.18 109.94L83.79 116.75L84.4 124.03L85.01 131.77L85.62 139.98L86.23 148.65L86.84 157.78L87.45 167.34L88.06 177.32L88.67 187.69L89.28 198.42L89.89 209.46L90.5 220.77L91.11 232.29L91.72 243.97L92.33 255.76L92.94 267.59L93.55 279.4L94.16 291.12L94.77 302.7L95.38 314.08L95.99 325.21L96.6 336.04L97.21 346.53L97.82 356.64L98.43 366.33L99.04 375.6L99.65 384.42L100.26 392.77L100.87 400.66L101.48 408.09L102.09 415.05L102.7 421.56L103.31 427.63L103.92 433.28L104.53 438.51L105.14 443.35L105.75 447.82L106.36 451.94L106.97 455.73L107.58 459.21L108.19 462.4L108.8 465.33L109.41 468L110.02 470.43L110.63 472.66L111.24 474.69L111.85 476.53L112.46 478.21L113.07 479.74L113.68 481.13L114.29 482.39L114.9 483.53L115.51 484.57L116.12 485.51L116.73 486.36L117.34 487.13L117.95 487.83L118.56 488.46L119.17 489.03L119.78 489.55L120.39 490.02L121 490.44L121.61 490.82L122.22 491.17L122.83 491.48L123.44 491.76L124.05 492.02L124.66 492.25L125.27 492.46L125.88 492.65L126.49 492.82L127.1 492.97L127.71 493.11L128.32 493.24L128.93 493.35L129.54 493.45L130.15 493.54L130.76 493.63L131.37 493.7L131.98 493.77L132.59 493.83L133.2 493.89L133.81 493.94L134.42 493.98L135.03 494.02L135.64 494.06L136.25 494.09L136.86 494.12L137.47 494.15L138.08 494.17L138.69 494.2L139.3 494.22L139.91 494.23L140.52 494.25L141.13 494.26L141.74 494.28L142.35 494.29L142.96 494.3L143.57 494.31L144.18 494.32L144.79 494.33L145.4 494.33L146.01 494.34L146.62 494.35L147.23 494.35L147.84 494.36L148.45 494.36L149.06 494.36L149.67 494.37L150.28 494.37L150.89 494.37L151.5 494.38L152.11 494.38L152.72 494.38L153.33 494.38L153.94 494.38L154.55 494.39L155.16 494.39L155.77 494.39L156.38 494.39L156.99 494.39L157.6 494.39L158.21 494.39L158.82 494.39L159.43 494.39L160.04 494.39L160.65 494.39L161.26 494.4L161.87 494.4L162.48 494.4L163.09 494.4L163.7 494.4L164.31 494.4L164.92 494.4L165.53 494.4L166.14 494.4L166.75 494.4L167.36 494.4L167.97 494.4L168.58 494.4L169.19 494.4L169.8 494.4L170.41 494.4L171.02 494.4L171.63 494.4L172.24 494.4L172.85 494.4L173.46 494.4L174.07 494.4L174.68 494.4L175.29 494.4L175.9 494.4L176.51 494.4L177.12 494.4L177.73 494.4L178.34 494.4L178.95 494.4L179.56 494.4L180.17 494.4L180.78 494.4L181.39 494.4L182 494.4L182.61 494.4L183.22 494.4L183.83 494.4L184.44 494.4L185.05 494.4L185.66 494.4L186.27 494.4L186.88 494.4L187.49 494.4L188.1 494.4L188.71 494.4L189.32 494.4L189.93 494.4L190.54 494.4L191.15 494.4L191.76 494.4L192.37 494.4L192.98 494.4L193.59 494.4L194.2 494.4L194.81 494.4L195.42 494.4L196.03 494.4L196.64 494.4L197.25 494.4L197.86 494.4L198.47 494.4L199.08 494.4L199.69 494.4L200.3 494.4L200.91 494.4L201.52 494.4L202.13 494.4L202.74 494.4L203.35 494.4L203.96 494.4L204.57 494.4L205.18 494.4L205.79 494.4L206.4 494.4L207.01 494.4L207.62 494.4L208.23 494.4L208.84 494.4L209.45 494.4L210.06 494.4L210.67 494.4L211.28 494.4L211.89 494.4L212.5 494.4L213.11 494.4L213.72 494.4L214.33 494.4L214.94 494.4L215.55 494.4L216.16 494.4L216.77 494.4L217.38 494.4L217.99 494.4L218.6 494.4L219.21 494.4L219.82 494.4L220.43 494.4L221.04 494.4L221.65 494.4L222.26 494.4L222.87 494.4L223.48 494.4L224.09 494.4L224.7 494.4L225.31 494.4L225.92 494.4L226.53 494.4L227.14 494.4L227.75 494.4L228.36 494.4L228.97 494.4L229.58 494.4L230.19 494.4L230.8 494.4L231.41 494.4L232.02 494.4L232.63 494.4L233.24 494.4L233.85 494.4L234.46 494.4L235.07 494.4L235.68 494.4L236.29 494.4L236.9 494.4L237.51 494.4L238.12 494.4L238.73 494.4L239.34 494.4L239.95 494.4L240.56 494.4L241.17 494.4L241.78 494.4L242.39 494.4L243 494.4L243.61 494.4L244.22 494.4L244.83 494.4L245.44 494.4L246.05 494.4L246.66 494.4L247.27 494.4L247.88 494.4L248.49 494.4L249.1 494.4L249.71 494.4L250.32 494.4L250.93 494.4L251.54 494.4L252.15 494.4L252.76 494.4L253.37 494.4L253.98 494.4L254.59 494.4L255.2 494.4L255.81 494.4L256.42 494.4L257.03 494.4L257.64 494.4L258.25 494.4L258.86 494.4L259.47 494.4L260.08 494.4L260.69 494.4L261.3 494.4L261.91 494.4L262.52 494.4L263.13 494.4L263.74 494.4L264.35 494.4L264.96 494.4L265.57 494.4L266.18 494.4L266.79 494.4L267.4 494.4L268.01 494.4L268.62 494.4L269.23 494.4L269.84 494.4L270.45 494.4L271.06 494.4L271.67 494.4L272.28 494.4L272.89 494.4L273.5 494.4L274.11 494.4L274.72 494.4L275.33 494.4L275.94 494.4L276.55 494.4L277.16 494.4L277.77 494.4L278.38 494.4L278.99 494.4L279.6 494.4L280.21 494.4L280.82 494.4L281.43 494.4L282.04 494.4L282.65 494.4L283.26 494.4L283.87 494.4L284.48 494.4L285.09 494.4L285.7 494.4L286.31 494.4L286.92 494.4L287.53 494.4L288.14 494.4L288.75 494.4L289.36 494.4L289.97 494.4L290.58 494.4L291.19 494.4L291.8 494.4L292.41 494.4L293.02 494.4L293.63 494.4L294.24 494.4L294.85 494.4L295.46 494.4L296.07 494.4L296.68 494.4L297.29 494.4L297.9 494.4L298.51 494.4L299.12 494.4L299.73 494.4L300.34 494.4L300.95 494.4L301.56 494.4L302.17 494.4L302.78 494.4L303.39 494.4L304 494.4L304.61 494.4L305.22 494.4L305.83 494.4L306.44 494.4L307.05 494.4L307.66 494.4L308.27 494.4L308.88 494.4L309.49 494.4L310.1 494.4L310.71 494.4L311.32 494.4L311.93 494.4L312.54 494.4L313.15 494.4L313.76 494.4L314.37 494.4L314.98 494.4L315.59 494.4L316.2 494.4L316.81 494.4L317.42 494.4L318.03 494.4L318.64 494.4L319.25 494.4L319.86 494.4L320.47 494.4L321.08 494.4L321.69 494.4L322.3 494.4L322.91 494.4L323.52 494.4L324.13 494.4L324.74 494.4L325.35 494.4L325.96 494.4L326.57 494.4L327.18 494.4L327.79 494.4L328.4 494.4L329.01 494.4L329.62 494.4L330.23 494.4L330.84 494.4L331.45 494.4L332.06 494.4L332.67 494.4L333.28 494.4L333.89 494.4L334.5 494.4L335.11 494.4L335.72 494.4L336.33 494.4L336.94 494.4L337.55 494.4L338.16 494.4L338.77 494.4L339.38 494.4L339.99 494.4L340.6 494.4L341.21 494.4L341.82 494.4L342.43 494.4L343.04 494.4L343.65 494.4L344.26 494.4L344.87 494.4L345.48 494.4L346.09 494.4L346.7 494.4L347.31 494.4L347.92 494.4L348.53 494.4L349.14 494.4L349.75 494.4L350.36 494.4L350.97 494.4L351.58 494.4L352.19 494.4L352.8 494.4L353.41 494.4L354.02 494.4L354.63 494.4L355.24 494.4L355.85 494.4L356.46 494.4L357.07 494.4L357.68 494.4L358.29 494.4L358.9 494.4L359.51 494.4L360.12 494.4L360.73 494.4L361.34 494.4L361.95 494.4L362.56 494.4L363.17 494.4L363.78 494.4L364.39 494.4L365 494.4L365.61 494.4L366.22 494.4L366.83 494.4L367.44 494.4L368.05 494.4L368.66 494.4L369.27 494.4L369.88 494.4L370.49 494.4L371.1 494.4L371.71 494.4L372.32 494.4L372.93 494.4L373.54 494.4L374.15 494.4L374.76 494.4L375.37 494.4L375.98 494.4L376.59 494.4L377.2 494.4L377.81 494.4L378.42 494.4L379.03 494.4L379.64 494.4L380.25 494.4L380.86 494.4L381.47 494.4L382.08 494.4L382.69 494.4L383.3 494.4L383.91 494.4L384.52 494.4L385.13 494.4L385.74 494.4L386.35 494.4L386.96 494.4L387.57 494.4L388.18 494.4L388.79 494.4L389.4 494.4L390.01 494.4L390.62 494.4L391.23 494.4L391.84 494.4L392.45 494.4L393.06 494.4L393.67 494.4L394.28 494.4L394.89 494.4L395.5 494.4L396.11 494.4L396.72 494.4L397.33 494.4L397.94 494.4L398.55 494.4L399.16 494.4L399.77 494.4L400.38 494.4L400.99 494.4L401.6 494.4L402.21 494.4L402.82 494.4L403.43 494.4L404.04 494.4L404.65 494.4L405.26 494.4L405.87 494.4L406.48 494.4L407.09 494.4L407.7 494.4L408.31 494.4L408.92 494.4L409.53 494.4L410.14 494.4L410.75 494.4L411.36 494.4L411.97 494.4L412.58 494.4L413.19 494.4L413.8 494.4L414.41 494.4L415.02 494.4L415.63 494.4L416.24 494.4L416.85 494.4L417.46 494.4L418.07 494.4L418.68 494.4L419.29 494.4L419.9 494.4L420.51 494.4L421.12 494.4L421.73 494.4L422.34 494.4L422.95 494.4L423.56 494.4L424.17 494.4L424.78 494.4L425.39 494.4L426 494.4L426.61 494.4L427.22 494.4L427.83 494.4L428.44 494.4L429.05 494.4L429.66 494.4L430.27 494.4L430.88 494.4L431.49 494.4L432.1 494.4L432.71 494.4L433.32 494.4L433.93 494.4L434.54 494.4L435.15 494.4L435.76 494.4L436.37 494.4L436.98 494.4L437.59 494.4L438.2 494.4L438.81 494.4L439.42 494.4L440.03 494.4L440.64 494.4L441.25 494.4L441.86 494.4L442.47 494.4L443.08 494.4L443.69 494.4L444.3 494.4L444.91 494.4L445.52 494.4L446.13 494.4L446.74 494.4L447.35 494.4L447.96 494.4L448.57 494.4L449.18 494.4L449.79 494.4L450.4 494.4L451.01 494.4L451.62 494.4L452.23 494.4L452.84 494.4L453.45 494.4L454.06 494.4L454.67 494.4L455.28 494.4L455.89 494.4L456.5 494.4L457.11 494.4L457.72 494.4L458.33 494.4L458.94 494.4L459.55 494.4L460.16 494.4L460.77 494.4L461.38 494.4L461.99 494.4L462.6 494.4L463.21 494.4L463.82 494.4L464.43 494.4L465.04 494.4L465.65 494.4L466.26 494.4L466.87 494.4L467.48 494.4L468.09 494.4L468.7 494.4L469.31 494.4L469.92 494.4L470.53 494.4L471.14 494.4L471.75 494.4L472.36 494.4L472.97 494.4L473.58 494.4L474.19 494.4L474.8 494.4L475.41 494.4L476.02 494.4L476.63 494.4L477.24 494.4L477.85 494.4L478.46 494.4L479.07 494.4L479.68 494.4L480.29 494.4L480.9 494.4L481.51 494.4L482.12 494.4L482.73 494.4L483.34 494.4L483.95 494.4L484.56 494.4L485.17 494.4L485.78 494.4L486.39 494.4L487 494.4L487.61 494.4L488.22 494.4L488.83 494.4L489.44 494.4L490.05 494.4L490.66 494.4L491.27 494.4L491.88 494.4L492.49 494.4L493.1 494.4L493.71 494.4L494.32 494.4L494.93 494.4L495.54 494.4L496.15 494.4L496.76 494.4L497.37 494.4L497.98 494.4L498.59 494.4L499.2 494.4L499.81 494.4L500.42 494.4L501.03 494.4L501.64 494.4L502.25 494.4L502.86 494.4L503.47 494.4L504.08 494.4L504.69 494.4L505.3 494.4L505.91 494.4L506.52 494.4L507.13 494.4L507.74 494.4L508.35 494.4L508.96 494.4L509.57 494.4L510.18 494.4L510.79 494.4L511.4 494.4L512.01 494.4L512.62 494.4L513.23 494.4L513.84 494.4L514.45 494.4L515.06 494.4L515.67 494.4L516.28 494.4L516.89 494.4L517.5 494.4L518.11 494.4L518.72 494.4L519.33 494.4L519.94 494.4L520.55 494.4L521.16 494.4L521.77 494.4L522.38 494.4L522.99 494.4L523.6 494.4L524.21 494.4L524.82 494.4L525.43 494.4L526.04 494.4L526.65 494.4L527.26 494.4L527.87 494.4L528.48 494.4L529.09 494.4L529.7 494.4L530.31 494.4L530.92 494.4L531.53 494.4L532.14 494.4L532.75 494.4L533.36 494.4L533.97 494.4L534.58 494.4L535.19 494.4L535.8 494.4L536.41 494.4L537.02 494.4L537.63 494.4L538.24 494.4L538.85 494.4L539.46 494.4L540.07 494.4L540.68 494.4L541.29 494.4L541.9 494.4L542.51 494.4L543.12 494.4L543.73 494.4L544.34 494.4L544.95 494.4L545.56 494.4L546.17 494.4L546.78 494.4L547.39 494.4L548 494.4L548.61 494.4L549.22 494.4L549.83 494.4L550.44 494.4L551.05 494.4L551.66 494.4L552.27 494.4L552.88 494.4L553.49 494.4L554.1 494.4L554.71 494.4L555.32 494.4L555.93 494.4L556.54 494.4L557.15 494.4L557.76 494.4L558.37 494.4L558.98 494.4L559.59 494.4L560.2 494.4L560.81 494.4L561.42 494.4L562.03 494.4L562.64 494.4L563.25 494.4L563.86 494.4L564.47 494.4L565.08 494.4L565.69 494.4L566.3 494.4L566.91 494.4L567.52 494.4L568.13 494.4L568.74 494.4L569.35 494.4L569.96 494.4L570.57 494.4L571.18 494.4L571.79 494.4L572.4 494.4L573.01 494.4L573.62 494.4L574.23 494.4L574.84 494.4L575.45 494.4L576.06 494.4L576.67 494.4L577.28 494.4L577.89 494.4L578.5 494.4L579.11 494.4L579.72 494.4L580.33 494.4L580.94 494.4L581.55 494.4L582.16 494.4L582.77 494.4L583.38 494.4L583.99 494.4L584.6 494.4L585.21 494.4L585.82 494.4L586.43 494.4L587.04 494.4L587.65 494.4L588.26 494.4L588.87 494.4L589.48 494.4L590.09 494.4L590.7 494.4L591.31 494.4L591.92 494.4L592.53 494.4L593.14 494.4L593.75 494.4L594.36 494.4L594.97 494.4L595.58 494.4L596.19 494.4L596.8 494.4L597.41 494.4L598.02 494.4L598.63 494.4L599.24 494.4L599.85 494.4L600.46 494.4L601.07 494.4L601.68 494.4L602.29 494.4L602.9 494.4L603.51 494.4L604.12 494.4L604.73 494.4L605.34 494.4L605.95 494.4L606.56 494.4L607.17 494.4L607.78 494.4L608.39 494.4L609 494.4L609.61 494.4L610.22 494.4L610.83 494.4L611.44 494.4L612.05 494.4L612.66 494.4L613.27 494.4L613.88 494.4L614.49 494.4L615.1 494.4L615.71 494.4L616.32 494.4L616.93 494.4L617.54 494.4L618.15 494.4L618.76 494.4L619.37 494.4L619.98 494.4L620.59 494.4L621.2 494.4L621.81 494.4L622.42 494.4L623.03 494.4L623.64 494.4L624.25 494.4L624.86 494.4L625.47 494.4L626.08 494.4L626.69 494.4L627.3 494.4L627.91 494.4L628.52 494.4L629.13 494.4L629.74 494.4L630.35 494.4L630.96 494.4L631.57 494.4L632.18 494.4L632.79 494.4L633.4 494.4L634.01 494.4L634.62 494.4L635.23 494.4L635.84 494.4L636.45 494.4L637.06 494.4L637.67 494.4L638.28 494.4L638.89 494.4L639.5 494.4L640.11 494.4L640.72 494.4L641.33 494.4L641.94 494.4L642.55 494.4L643.16 494.4L643.77 494.4L644.38 494.4L644.99 494.4L645.6 494.4L646.21 494.4L646.82 494.4L647.43 494.4L648.04 494.4L648.65 494.4L649.26 494.4L649.87 494.4L650.48 494.4L651.09 494.4L651.7 494.4L652.31 494.4L652.92 494.4L653.53 494.4L654.14 494.4L654.75 494.4L655.36 494.4L655.97 494.4L656.58 494.4L657.19 494.4L657.8 494.4L658.41 494.4L659.02 494.4L659.63 494.4L660.24 494.4L660.85 494.4L661.46 494.4L662.07 494.4L662.68 494.4L663.29 494.4L663.9 494.4L664.51 494.4L665.12 494.4L665.73 494.4L666.34 494.4L666.95 494.4L667.56 494.4L668.17 494.4L668.78 494.4L669.39 494.4L670 494.4" stroke="#a020f0" stroke-width="2.5" fill="none" stroke-linejoin="round"/>
<path d="M60 28.78L61.67 31.68L65.02 31.68L63.35 34.58L65.02 37.48L61.67 37.48L60 40.38L58.33 37.48L54.98 37.48L56.65 34.58L54.98 31.68L58.33 31.68Z" fill="none" stroke="#a020f0" stroke-width="2.5"/>
<path d="M90.5 214.97L92.17 217.87L95.52 217.87L93.85 220.77L95.52 223.67L92.17 223.67L90.5 226.57L88.83 223.67L85.48 223.67L87.15 220.77L85.48 217.87L88.83 217.87Z" fill="none" stroke="#a020f0" stroke-width="2.5"/>
<path d="M121 484.64L122.67 487.54L126.02 487.54L124.35 490.44L126.02 493.34L122.67 493.34L121 496.24L119.33 493.34L115.98 493.34L117.65 490.44L115.98 487.54L119.33 487.54Z" fill="none" stroke="#a020f0" stroke-width="2.5"/>
<path d="M151.5 488.58L153.17 491.48L156.52 491.48L154.85 494.38L156.52 497.28L153.17 497.28L151.5 500.18L149.83 497.28L146.48 497.28L148.15 494.38L146.48 491.48L149.83 491.48Z" fill="none" stroke="#a020f0" stroke-width="2.5"/>
<path d="M182 488.6L183.67 491.5L187.02 491.5L185.35 494.4L187.02 497.3L183.67 497.3L182 500.2L180.33 497.3L176.98 497.3L178.65 494.4L176.98 491.5L180.33 491.5Z" fill="none" stroke="#a020f0" stroke-width="2.5"/>
<path d="M212.5 488.6L214.17 491.5L217.52 491.5L215.85 494.4L217.52 497.3L214.17 497.3L212.5 500.2L210.83 497.3L207.48 497.3L209.15 494.4L207.48 491.5L210.83 491.5Z" fill="none" stroke="#a020f0" stroke-width="2.5"/>
<path d="M243 488.6L244.67 491.5L248.02 491.5L246.35 494.4L248.02 497.3L244.67 497.3L243 500.2L241.33 497.3L237.98 497.3L239.65 494.4L237.98 491.5L241.33 491.5Z" fill="none" stroke="#a020f0" stroke-width="2.5"/>
<path d="M273.5 488.6L275.17 491.5L278.52 491.5L276.85 494.4L278.52 497.3L275.17 497.3L273.5 500.2L271.83 497.3L268.48 497.3L270.15 494.4L268.48 491.5L271.83 491.5Z" fill="none" stroke="#a020f0" stroke-width="2.5"/>
<path d="M304 488.6L305.67 491.5L309.02 491.5L307.35 494.4L309.02 497.3L305.67 497.3L304 500.2L302.33 497.3L298.98 497.3L300.65 494.4L298.98 491.5L302.33 491.5Z" fill="none" stroke="#a020f0" stroke-width="2.5"/>
<path d="M334.5 488.6L336.17 491.5L339.52 491.5L337.85 494.4L339.52 497.3L336.17 497.3L334.5 500.2L332.83 497.3L329.48 497.3L331.15 494.4L329.48 491.5L332.83 491.5Z" fill="none" stroke="#a020f0" stroke-width="2.5"/>
<path d="M365 488.6L366.67 491.5L370.02 491.5L368.35 494.4L370.02 497.3L366.67 497.3L365 500.2L363.33 497.3L359.98 497.3L361.65 494.4L359.98 491.5L363.33 491.5Z" fill="none" stroke="#a020f0" stroke-width="2.5"/>
<path d="M395.5 488.6L397.17 491.5L400.52 491.5L398.85 494.4L400.52 497.3L397.17 497.3L395.5 500.2L393.83 497.3L390.48 497.3L392.15 494.4L390.48 491.5L393.83 491.5Z" fill="none" stroke="#a020f0" stroke-width="2.5"/>
<path d="M426 488.6L427.67 491.5L431.02 491.5L429.35 494.4L431.02 497.3L427.67 497.3L426 500.2L424.33 497.3L420.98 497.3L422.65 494.4L420.98 491.5L424.33 491.5Z" fill="none" stroke="#a020f0" stroke-width="2.5"/>
<path d="M456.5 488.6L458.17 491.5L461.52 491.5L459.85 494.4L461.52 497.3L458.17 497.3L456.5 500.2L454.83 497.3L451.48 497.3L453.15 494.4L451.48 491.5L454.83 491.5Z" fill="none" stroke="#a020f0" stroke-width="2.5"/>
<path d="M487 488.6L488.67 491.5L492.02 491.5L490.35 494.4L492.02 497.3L488.67 497.3L487 500.2L485.33 497.3L481.98 497.3L483.65 494.4L481.98 491.5L485.33 491.5Z" fill="none" stroke="#a020f0" stroke-width="2.5"/>
<path d="M517.5 488.6L519.17 491.5L522.52 491.5L520.85 494.4L522.52 497.3L519.17 497.3L517.5 500.2L515.83 497.3L512.48 497.3L514.15 494.4L512.48 491.5L515.83 491.5Z" fill="none" stroke="#a020f0" stroke-width="2.5"/>
<path d="M548 488.6L549.67 491.5L553.02 491.5L551.35 494.4L553.02 497.3L549.67 497.3L548 500.2L546.33 497.3L542.98 497.3L544.65 494.4L542.98 491.5L546.33 491.5Z" fill="none" stroke="#a020f0" stroke-width="2.5"/>
<path d="M578.5 488.6L580.17 491.5L583.52 491.5L581.85 494.4L583.52 497.3L580.17 497.3L578.5 500.2L576.83 497.3L573.48 497.3L575.15 494.4L573.48 491.5L576.83 491.5Z" fill="none" stroke="#a020f0" stroke-width="2.5"/>
<path d="M609 488.6L610.67 491.5L614.02 491.5L612.35 494.4L614.02 497.3L610.67 497.3L609 500.2L607.33 497.3L603.98 497.3L605.65 494.4L603.98 491.5L607.33 491.5Z" fill="none" stroke="#a020f0" stroke-width="2.5"/>
<path d="M639.5 488.6L641.17 491.5L644.52 491.5L642.85 494.4L644.52 497.3L641.17 497.3L639.5 500.2L637.83 497.3L634.48 497.3L636.15 494.4L634.48 491.5L637.83 491.5Z" fill="none" stroke="#a020f0" stroke-width="2.5"/>
</g>
<rect x="473.5" y="51.5" width="141.5" height="175" fill="#fff" stroke="#262626" stroke-width="1.2"/>
<path d="M506.4 66.3H563" stroke="#ff0000" stroke-width="2.5" fill="none"/>
<path d="M534.6 59.15L540 66.3L534.6 73.45L529.2 66.3Z" fill="none" stroke="#ff0000" stroke-width="2.5"/>
<text x="567" y="72.8" font-size="18.7" fill="#000" stroke="#000" stroke-width="0.3">A</text>
<path d="M506.4 90.6H563" stroke="#00ff00" stroke-width="2.5" fill="none"/>
<path d="M534.6 85L535.86 88.87L539.93 88.87L536.63 91.26L537.89 95.13L534.6 92.74L531.31 95.13L532.57 91.26L529.27 88.87L533.34 88.87Z" fill="#00ff00" stroke="#00ff00" stroke-width="2.5" stroke-miterlimit="10"/>
<text x="567" y="97.2" font-size="18.7" fill="#000" stroke="#000" stroke-width="0.3">B</text>
<path d="M506.4 114.7H563" stroke="#0000ff" stroke-width="2.5" fill="none"/>
<path d="M528.9 115H540.3M534.6 109.9V120.1M530.3 110.7L538.9 119.3M530.3 119.3L538.9 110.7" fill="none" stroke="#0000ff" stroke-width="2.3"/>
<text x="567" y="121.4" font-size="18.7" fill="#000" stroke="#000" stroke-width="0.3">C</text>
<path d="M506.4 138.9H563" stroke="#00ffff" stroke-width="2.5" fill="none"/>
<rect x="530" y="134.3" width="9.2" height="9.2" fill="none" stroke="#00ffff" stroke-width="2.5"/>
<text x="567" y="146.2" font-size="18.7" fill="#000" stroke="#000" stroke-width="0.3">D</text>
<path d="M506.4 163.2H563" stroke="#ff00ff" stroke-width="2.5" fill="none"/>
<circle cx="534.6" cy="163.2" r="5.75" fill="none" stroke="#ff00ff" stroke-width="2.5"/>
<text x="567" y="170.2" font-size="18.7" fill="#000" stroke="#000" stroke-width="0.3">E</text>
<path d="M506.4 187.5H563" stroke="#1e90ff" stroke-width="2.5" fill="none"/>
<path d="M534.6 180.65L541.01 191.75L528.19 191.75Z" fill="none" stroke="#1e90ff" stroke-width="2.5"/>
<text x="567" y="194.6" font-size="18.7" fill="#000" stroke="#000" stroke-width="0.3">G</text>
<path d="M506.4 211.9H563" stroke="#a020f0" stroke-width="2.5" fill="none"/>
<path d="M534.6 206.1L536.27 209L539.62 209L537.95 211.9L539.62 214.8L536.27 214.8L534.6 217.7L532.93 214.8L529.58 214.8L531.25 211.9L529.58 209L532.93 209Z" fill="none" stroke="#a020f0" stroke-width="2.5"/>
<text x="567" y="218.9" font-size="18.7" fill="#000" stroke="#000" stroke-width="0.3">H</text>
</svg>
</body></html>
